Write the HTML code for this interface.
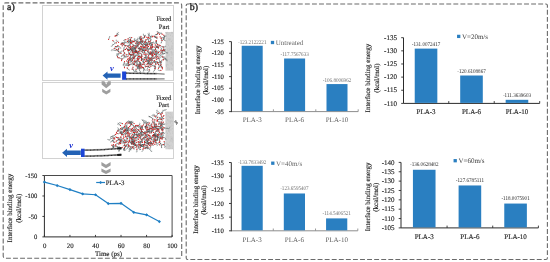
<!DOCTYPE html>
<html><head><meta charset="utf-8"><title>figure</title><style>html,body{margin:0;padding:0;background:#fff}svg{display:block;filter:blur(0.35px)}text{text-rendering:geometricPrecision}</style></head><body>
<svg width="550" height="262" viewBox="0 0 550 262" font-family='"Liberation Serif", serif'>
<rect width="550" height="262" fill="#fff"/>
<rect x="3.2" y="2.9" width="178.5" height="255.4" rx="2.3" ry="2.3" fill="none" stroke="#6a6a6a" stroke-width="1.1" stroke-dasharray="4.9 2.17" stroke-dashoffset="1.2"/>
<rect x="186.2" y="4.0" width="361.2" height="255.5" rx="1.5" ry="1.5" fill="none" stroke="#6a6a6a" stroke-width="1.1" stroke-dasharray="4.9 2.17" stroke-dashoffset="3"/>
<text x="7.10" y="9.90" font-size="9.8" text-anchor="start" fill="#1a1a1a" stroke="#1a1a1a" stroke-width="0.35">a)</text>
<text x="189.80" y="10.40" font-size="9.8" text-anchor="start" fill="#1a1a1a" stroke="#1a1a1a" stroke-width="0.35">b)</text>
<rect x="42.5" y="5.5" width="131" height="75.0" fill="#fff" stroke="#d2d2d2" stroke-width="1"/>
<text x="163.90" y="21.00" font-size="6.6" text-anchor="middle" fill="#262626"  stroke="#262626" stroke-width="0.15">Fixed</text>
<text x="164.10" y="28.70" font-size="6.6" text-anchor="middle" fill="#262626"  stroke="#262626" stroke-width="0.15">Part</text>
<rect x="165.5" y="32" width="7.699999999999989" height="38.7" fill="#d2d2d2"/>
<path d="M166.5 64.3h0.6M170.9 41.7h0.6M169.0 49.1h0.6M170.1 62.1h0.6M166.2 33.1h0.6M171.4 48.5h0.6M170.9 32.1h0.6M168.7 59.5h0.6M167.1 68.0h0.6M171.9 33.2h0.6M165.7 52.6h0.6M172.2 46.5h0.6M167.0 48.1h0.6M165.7 40.4h0.6M168.6 50.9h0.6M167.2 40.8h0.6M167.1 49.5h0.6M167.6 32.8h0.6M171.4 53.2h0.6M170.1 39.1h0.6M172.5 64.8h0.6M166.4 44.7h0.6M170.6 59.1h0.6M172.1 48.1h0.6M171.4 57.5h0.6M167.7 54.4h0.6M171.8 64.2h0.6M169.1 54.4h0.6M165.7 41.2h0.6M171.2 47.8h0.6M166.7 52.9h0.6M170.5 57.7h0.6M168.2 48.7h0.6M169.1 61.7h0.6M169.2 47.0h0.6M169.0 33.1h0.6M165.8 58.8h0.6M172.5 54.6h0.6M168.3 38.5h0.6M169.1 69.4h0.6M171.0 52.6h0.6M171.6 40.8h0.6M169.1 68.3h0.6M169.6 49.5h0.6M167.4 52.9h0.6M172.3 32.2h0.6M171.1 63.3h0.6M171.8 60.2h0.6M171.2 51.8h0.6M169.5 48.2h0.6M165.9 65.1h0.6M169.5 39.6h0.6M169.1 50.5h0.6M168.0 45.2h0.6M169.3 55.8h0.6M169.8 49.5h0.6M165.7 40.7h0.6M166.8 54.3h0.6M171.6 62.4h0.6M171.2 63.1h0.6M167.3 64.1h0.6M170.3 35.2h0.6M165.6 32.6h0.6M170.9 41.5h0.6M166.3 55.8h0.6M167.9 34.6h0.6M166.6 52.1h0.6M166.7 42.4h0.6M170.6 49.3h0.6M167.8 50.1h0.6M165.7 46.7h0.6M168.5 39.2h0.6M166.3 66.3h0.6M169.1 40.0h0.6M169.8 63.1h0.6M165.6 32.7h0.6M166.5 59.4h0.6M166.6 58.8h0.6M170.3 52.8h0.6M167.1 69.2h0.6M171.2 51.7h0.6M167.1 56.7h0.6M168.3 53.9h0.6M167.8 56.0h0.6M165.9 43.4h0.6M172.4 65.4h0.6M167.7 64.7h0.6M167.7 67.8h0.6M170.8 47.9h0.6M167.3 32.3h0.6M171.7 33.4h0.6M171.3 68.7h0.6M169.5 38.5h0.6M171.7 69.1h0.6M170.5 51.4h0.6M168.2 45.2h0.6M167.0 57.7h0.6M168.6 39.4h0.6M166.2 57.4h0.6M167.6 51.0h0.6M167.8 65.2h0.6M171.9 32.7h0.6M166.9 44.5h0.6M172.5 61.8h0.6M167.9 40.1h0.6M170.3 63.9h0.6M172.1 45.1h0.6M171.8 58.2h0.6M168.9 69.5h0.6M167.2 59.6h0.6M166.1 38.5h0.6M172.0 40.1h0.6M170.9 54.9h0.6M171.5 46.0h0.6M167.9 43.1h0.6M171.7 55.0h0.6M172.3 65.8h0.6M166.5 53.0h0.6M166.2 33.5h0.6M166.0 65.0h0.6M171.1 63.6h0.6M167.9 55.4h0.6M171.1 46.4h0.6M169.6 40.5h0.6M166.1 42.2h0.6M171.8 53.5h0.6M172.1 49.4h0.6M167.5 62.0h0.6M171.4 32.5h0.6M170.3 35.5h0.6M166.3 65.7h0.6M165.8 41.1h0.6M172.5 48.0h0.6M166.3 38.4h0.6M167.2 60.3h0.6M166.2 66.7h0.6M168.2 69.0h0.6M172.0 43.2h0.6M167.3 50.2h0.6M166.2 56.8h0.6M165.8 32.4h0.6M172.5 43.3h0.6M169.7 49.1h0.6M167.7 34.4h0.6M172.0 68.9h0.6M172.4 36.2h0.6M167.0 55.5h0.6M172.5 52.7h0.6" stroke="#bdbdbd" stroke-width="0.6" fill="none"/>
<path d="M157.3 34.5l-1.2 -0.3M155.4 34.6l0.5 1.1M158.8 33.0l0.6 -1.0M157.5 31.5l-1.2 0.2M161.0 33.2l0.6 -1.0M164.3 36.3l1.2 0.0M164.3 37.5l-1.1 0.5M164.0 39.4l-1.2 0.2M116.6 35.4l0.7 0.9M117.3 33.8l-1.1 -0.6M118.5 32.6l-1.1 -0.5M118.2 34.3l1.0 0.6M130.7 40.9l1.2 -0.3M129.3 42.1l1.0 0.6M127.8 43.0l0.7 1.0M139.5 37.8l-0.9 -0.8M143.1 34.6l0.3 -1.2M147.4 38.4l1.0 -0.7M151.3 37.0l-0.7 -1.0M149.2 34.6l-1.1 0.6M155.2 36.4l-0.1 1.2M155.1 37.3l-0.1 -1.2M124.3 39.8l-0.1 1.2M123.7 40.9l1.0 0.7M130.5 37.4l0.7 1.0M130.3 40.9l0.9 0.8M130.9 41.9l-0.7 1.0M143.8 37.8l-0.1 1.2M142.9 40.5l1.1 -0.4M145.4 41.1l-1.2 0.1M148.6 36.5l1.2 0.2M148.8 34.8l-1.2 0.2M150.8 40.6l-1.2 0.2M161.8 40.2l-1.2 -0.1M161.3 43.2l-1.1 -0.4M113.8 41.4l-1.0 0.6M117.3 41.3l1.0 -0.6M115.9 40.5l0.5 -1.1M128.4 40.0l1.2 0.1M129.9 40.0l0.5 -1.1M133.2 42.1l0.4 -1.1M129.8 41.7l-1.1 -0.5M131.1 41.6l0.0 1.2M130.5 42.8l0.7 0.9M129.8 43.9l1.0 0.6M137.9 47.5l-1.1 0.4M140.4 39.2l1.2 0.1M139.9 37.4l1.0 -0.7M140.1 36.2l1.2 -0.2M144.0 44.0l-1.0 0.7M148.5 39.4l0.2 -1.2M150.0 41.5l-0.1 1.2M150.3 38.1l1.2 -0.3M152.4 35.9l-0.6 -1.1M156.8 44.0l1.1 -0.6M157.9 44.7l-0.9 0.8M156.5 42.0l-1.1 0.4M164.9 36.4l-0.9 -0.8M166.1 35.8l0.9 0.8M114.8 43.2l-0.9 -0.8M112.6 44.8l-0.4 -1.1M111.8 46.5l-1.2 -0.3M122.3 43.5l-0.6 -1.0M123.6 42.5l0.5 1.1M126.8 42.1l-0.2 1.2M128.6 41.3l0.6 1.0M121.0 43.6l0.2 1.2M132.0 43.7l0.6 -1.1M134.7 45.5l-0.1 1.2M136.5 45.4l0.5 1.1M130.4 43.7l0.7 1.0M128.5 46.9l0.9 0.8M128.5 48.2l-1.2 -0.2M137.7 43.2l-0.1 -1.2M140.9 42.2l0.4 -1.1M141.6 43.4l1.2 -0.2M140.0 42.0l1.1 -0.6M141.5 42.6l0.8 -0.9M138.3 42.9l0.8 -0.9M143.5 44.8l0.2 1.2M145.3 44.3l-0.0 -1.2M146.9 44.2l-0.2 1.2M143.3 41.6l-0.7 1.0M141.9 41.7l0.4 1.1M140.0 38.9l-1.1 0.5M149.0 44.1l0.8 0.9M149.9 43.0l0.7 1.0M151.9 44.8l-1.1 0.5M152.2 46.0l-1.2 -0.1M150.9 45.2l0.3 1.2M149.0 44.8l0.4 -1.1M156.7 47.4l-1.0 0.6M156.7 45.6l0.9 0.8M157.0 47.6l1.2 -0.2M158.6 48.1l-0.2 1.2M158.4 47.1l-1.2 -0.3M157.2 46.8l-0.0 -1.2M156.0 46.6l-0.2 1.2M120.4 48.4l1.2 -0.2M114.8 46.9l-0.2 1.2M123.0 44.9l-0.4 -1.1M124.2 43.6l-0.8 -0.9M125.1 42.6l1.0 0.7M124.1 45.4l-0.1 -1.2M123.6 43.8l1.2 -0.3M129.7 43.7l1.2 0.2M127.6 45.8l-0.8 -0.9M126.1 45.5l-0.3 1.2M135.4 46.0l0.4 -1.1M136.8 46.6l0.9 -0.7M138.4 46.4l-0.0 -1.2M138.0 45.2l1.0 0.6M138.6 43.8l-1.2 -0.1M139.9 42.9l0.6 1.1M142.3 46.6l0.4 1.1M145.5 46.1l0.8 0.9M142.9 45.6l0.8 0.9M142.2 44.2l-0.8 0.9M146.0 48.7l1.1 -0.6M148.6 49.5l-0.4 -1.1M147.4 44.2l-1.2 -0.1M146.9 42.6l-1.2 -0.1M147.2 47.7l-1.1 -0.5M148.6 49.8l0.5 -1.1M151.8 47.8l1.0 0.7M151.5 47.5l-1.1 -0.6M158.8 46.6l0.0 1.2M159.8 45.1l-0.6 -1.0M163.2 46.5l0.2 1.2M164.3 47.1l0.1 -1.2M165.8 46.6l-0.2 -1.2M163.9 48.8l-1.2 0.3M164.6 49.9l1.0 -0.7M164.5 51.2l1.2 0.1M115.6 48.8l0.8 -0.9M116.8 50.0l-0.8 0.9M115.6 50.6l-1.1 -0.6M111.0 50.5l0.8 0.9M123.6 51.4l-1.2 0.0M125.3 54.3l-1.0 0.6M127.0 49.2l1.2 -0.1M128.0 49.8l0.7 -0.9M132.4 49.3l-0.8 0.9M132.7 51.1l-1.2 -0.3M133.4 52.3l1.2 -0.2M132.0 47.4l-1.1 -0.5M133.0 45.9l1.1 0.5M134.6 48.8l-1.2 0.1M135.3 50.3l-1.2 0.0M136.5 51.8l-0.5 1.1M134.8 48.8l-0.8 -0.9M133.2 49.7l-0.2 -1.2M140.6 48.0l-0.8 -0.9M139.1 47.5l0.2 1.2M140.8 50.9l-0.6 1.0M139.6 50.5l0.8 -0.9M146.5 45.1l1.1 -0.4M145.4 43.9l-1.0 0.6M145.0 42.6l0.9 -0.8M152.3 50.4l-1.0 0.6M151.2 47.1l-0.4 1.1M149.6 48.2l-1.1 -0.4M156.8 50.6l0.3 -1.2M156.4 52.6l1.2 0.2M157.0 47.0l0.3 -1.2M154.7 50.6l-1.0 -0.7M162.3 53.1l1.2 -0.2M163.5 53.7l-0.3 1.2M165.1 53.5l-0.2 -1.2M117.8 51.0l-0.8 0.9M119.0 48.2l-0.6 -1.0M124.0 49.3l-1.0 -0.7M124.0 47.6l1.1 -0.6M125.3 45.1l-0.9 -0.8M129.3 50.5l-0.4 1.1M130.7 49.5l-0.5 -1.1M132.1 48.9l-0.2 -1.2M129.6 49.4l-0.5 -1.1M131.4 49.9l0.2 1.2M132.6 49.1l1.1 0.5M133.6 53.4l-0.7 1.0M136.2 55.6l0.4 -1.1M137.7 55.6l-0.4 1.1M135.1 51.2l-0.9 0.8M133.7 50.5l-0.9 0.8M135.9 51.4l-1.0 0.6M135.3 49.8l1.1 -0.5M133.7 47.2l-0.6 1.1M138.2 52.8l0.7 0.9M142.8 49.8l1.1 0.5M143.6 48.5l0.8 0.9M144.1 50.8l0.6 1.1M143.0 49.4l0.9 -0.7M143.2 47.4l1.1 -0.5M143.4 46.1l1.2 0.2M147.6 52.4l1.2 -0.2M152.0 53.0l-0.6 1.1M153.8 53.0l-0.4 1.1M154.6 51.7l-0.8 -0.9M151.4 53.3l0.9 0.8M157.4 52.0l0.4 -1.1M161.7 50.5l0.0 -1.2M161.6 48.9l-0.5 -1.1M163.5 50.1l0.6 1.0M166.5 52.8l1.1 -0.4M167.9 53.1l0.1 -1.2M120.7 51.7l1.2 -0.2M123.6 54.6l0.7 1.0M121.9 55.5l0.7 1.0M126.6 57.2l-1.1 0.5M128.7 53.2l-0.9 0.8M137.5 52.8l0.6 -1.0M138.2 55.9l-1.0 0.6M132.6 53.1l-1.1 -0.4M135.8 52.3l-0.3 -1.2M134.8 53.0l0.1 1.2M141.5 56.1l1.2 0.1M141.5 59.0l1.2 -0.1M145.3 53.6l0.7 -0.9M144.7 52.3l1.2 -0.0M149.0 53.5l-0.3 1.2M147.5 51.6l0.2 -1.2M157.0 53.9l-0.2 -1.2M165.7 50.0l-0.6 -1.1M117.8 55.4l-1.0 -0.6M118.4 54.0l1.0 0.6M119.3 52.9l0.5 1.1M124.3 56.6l-1.0 0.6M128.3 49.6l1.1 -0.4M130.7 56.2l-1.0 -0.6M134.9 52.3l1.1 0.6M136.3 51.8l0.1 -1.2M133.2 54.9l0.8 -0.9M133.4 53.4l-1.2 -0.3M138.9 59.6l-1.1 0.4M136.4 58.7l0.7 1.0M144.0 61.9l0.3 -1.2M149.1 54.0l-1.1 -0.5M150.8 53.6l-0.4 -1.1M152.2 53.8l0.2 1.2M152.7 56.0l-0.4 1.1M156.0 56.1l1.0 0.6M156.3 54.5l-1.1 -0.6M160.4 56.0l0.4 -1.1M161.8 54.6l1.2 0.3M164.4 57.1l0.7 -1.0M165.4 58.1l-0.9 0.8M117.9 57.2l-0.3 1.2M117.2 53.9l-1.2 -0.3M118.4 53.6l-0.1 1.2M119.7 57.8l-1.0 0.7M128.6 60.5l-0.5 1.1M130.5 60.2l0.4 1.1M131.4 60.1l0.9 -0.8M133.3 58.0l1.1 0.4M134.7 57.2l0.1 -1.2M132.7 58.0l-0.3 -1.2M131.1 58.6l0.3 1.2M138.4 59.1l1.2 -0.3M139.7 62.1l-0.5 1.1M139.3 57.2l1.2 0.3M142.7 59.2l0.7 -1.0M143.3 60.7l1.2 -0.1M143.4 62.0l1.2 0.2M144.1 63.6l-0.8 0.9M145.8 58.0l0.9 -0.8M146.7 59.1l-1.1 0.5M146.2 60.6l-1.2 -0.0M150.3 59.3l-0.2 -1.2M151.3 57.9l-0.8 -0.9M150.4 58.6l-0.1 -1.2M151.3 59.6l0.8 -0.9M152.7 54.3l1.1 0.6M153.1 53.2l1.2 0.3M151.2 60.3l-1.1 -0.5M149.6 60.2l0.4 -1.1M157.8 58.7l-0.6 -1.0M159.1 58.0l-0.7 -0.9M159.4 59.4l-1.1 0.5M164.7 58.7l0.9 0.8M166.9 59.9l-1.1 0.4M166.8 61.1l1.2 -0.2M122.0 59.2l-0.9 -0.8M124.4 63.0l-1.1 -0.4M123.4 64.6l0.8 0.9M127.7 62.3l-0.7 1.0M127.3 63.8l1.2 0.1M125.5 64.2l-0.8 -0.9M123.7 64.0l-0.7 0.9M128.4 63.3l-1.2 -0.1M128.5 66.2l-1.1 -0.5M131.7 61.5l-0.7 -0.9M130.1 62.2l-0.4 -1.1M135.8 54.6l1.2 -0.1M135.3 62.5l-1.0 -0.7M133.8 63.5l-0.7 -0.9M133.4 65.0l-1.2 0.3M140.0 62.4l-0.5 1.1M142.3 59.6l-0.5 -1.1M143.9 59.8l0.5 1.1M146.7 60.9l-0.1 1.2M149.6 59.4l-0.7 -1.0M150.0 58.1l1.2 0.0M148.2 61.8l0.3 -1.2M149.8 61.7l0.6 1.1M148.0 61.2l-0.4 -1.1M148.2 62.9l1.1 -0.5M147.1 64.0l-0.5 -1.1M151.3 61.8l1.1 0.6M150.0 62.5l-0.7 -1.0M148.6 62.9l0.1 1.2M155.7 63.6l1.2 -0.2M156.0 64.8l-0.9 0.8M158.5 62.5l0.6 1.0M157.0 61.8l-0.5 1.1M155.9 62.2l-0.9 -0.8M164.0 58.8l0.9 0.8M163.0 57.1l-1.1 0.4M161.9 56.5l0.9 -0.8M160.4 57.1l0.0 1.2M130.3 58.5l0.5 1.1M133.8 61.2l-1.2 -0.3M135.6 61.2l0.6 1.0M130.9 64.1l-0.3 1.2M138.4 66.5l1.2 -0.0M137.7 67.6l0.9 0.8M145.0 64.7l0.2 -1.2M145.5 67.4l-0.8 0.9M143.0 62.4l0.0 -1.2M140.8 64.6l-0.9 -0.8M148.9 64.0l-0.0 1.2M151.8 64.7l0.8 -0.9M150.1 64.1l0.7 0.9M154.4 61.7l-0.5 -1.1M149.7 64.8l-1.0 -0.6M152.9 60.5l-1.0 0.7M152.0 59.5l-0.7 0.9M160.0 61.8l-0.3 -1.2M161.4 61.1l0.8 0.9M162.0 59.7l1.1 0.5M157.3 63.6l0.9 -0.8M157.2 62.0l1.2 0.2M160.6 63.3l0.8 -0.9M161.0 61.8l1.0 0.6M127.6 65.5l-0.5 -1.1M126.8 64.6l-0.9 0.8M136.3 66.6l-0.3 -1.2M135.2 65.6l0.5 -1.1M138.5 66.7l0.6 1.0M137.0 67.2l0.4 1.1M141.9 67.3l1.1 -0.6M141.2 68.8l-0.9 -0.8M149.1 66.7l-0.0 1.2M149.6 67.9l1.2 -0.2M147.0 70.6l1.2 -0.2M150.7 64.6l-1.2 -0.3M149.2 63.7l0.3 -1.2M154.5 68.4l1.2 0.2M154.9 69.5l-0.8 0.9M153.3 71.4l0.2 1.2M161.1 66.5l-1.1 0.6M161.1 63.2l-1.0 -0.7M161.6 61.6l-1.2 -0.3M128.6 64.1l-0.6 -1.0M129.3 69.7l0.2 1.2M135.9 71.4l-0.7 -1.0M136.0 70.5l-1.2 -0.2M136.7 72.0l1.2 -0.1M139.2 63.4l1.2 -0.3M143.7 71.3l-1.1 0.5M141.7 67.1l-0.2 1.2M140.3 67.6l0.2 1.2M139.1 68.2l-0.9 -0.8M137.9 68.6l0.1 1.2M149.4 71.3l1.1 -0.4M147.8 72.3l0.6 1.0M154.9 66.2l-1.0 0.7M153.8 65.7l0.1 -1.2M159.3 67.0l0.8 0.9M158.1 63.9l1.2 -0.3M162.0 67.4l0.9 -0.8" stroke="#a8aeae" stroke-width="0.55" fill="none"/>
<path d="M159.4 34.3L158.8 33.0L157.5 31.5M162.2 34.2L161.0 33.2L159.6 33.2L158.6 32.2L157.1 32.1M116.0 35.7L117.6 35.4L118.2 34.3M141.2 36.9L139.5 37.8L139.7 39.3L140.6 40.2M146.9 37.2L147.4 38.4L148.4 39.7L148.7 41.5M152.5 36.7L151.3 37.0L150.0 36.4L149.2 34.6L149.1 32.7M157.0 37.2L155.1 37.3L153.8 36.8M160.1 36.8L161.5 37.6L163.4 37.8M108.6 39.5L109.2 37.9L109.9 36.0M125.9 39.7L124.3 39.8L123.7 40.9M128.0 38.9L129.0 37.7L130.5 37.4M130.5 39.8L130.3 40.9L130.9 41.9M141.6 39.3L142.9 40.5L143.9 41.6L145.4 42.5M146.0 39.6L145.4 41.1L146.0 42.4M148.3 37.7L148.6 36.5L148.8 34.8L147.8 33.6M149.0 37.9L150.2 39.2L150.8 40.6M161.2 38.4L161.8 40.2L161.7 41.6L161.3 43.2M112.8 40.6L113.8 41.4L114.9 42.5M118.6 42.3L117.3 41.3L115.9 40.5M130.5 42.3L131.8 42.3L133.2 42.1M132.7 41.1L130.9 40.8L129.8 41.7L128.0 41.2M134.2 41.7L132.8 41.7L131.1 41.6L130.5 42.8L129.8 43.9M136.9 41.2L137.5 43.0L138.2 44.7L137.9 46.2L137.9 47.5M145.2 41.5L146.2 40.2L147.1 39.2L148.5 39.4M148.4 41.6L150.0 41.5L150.8 42.5L152.6 42.6L153.8 41.8M150.4 41.0L151.2 39.6L150.3 38.1L150.7 36.3L152.4 35.9M156.3 40.5L156.5 42.0L155.1 43.4L153.5 42.9L152.1 42.4M162.0 40.5L163.5 39.6L163.4 37.6L164.9 36.4L166.1 35.8M116.4 42.8L114.8 43.2L114.1 44.3L112.6 44.8L111.8 46.5M122.4 43.6L123.6 42.5L125.6 42.2L126.8 42.1L128.6 41.3M123.8 44.1L122.2 44.0L121.0 43.6M130.8 42.8L132.0 43.7L132.9 44.9L134.7 45.5L136.5 45.4M131.7 42.8L130.4 43.7L129.8 45.5L128.5 46.9L128.5 48.2M135.8 43.4L137.7 43.2L139.3 42.0L140.9 42.2L141.6 43.4M136.2 42.6L137.2 41.1L138.9 41.2L140.0 42.0L141.5 42.6M139.3 44.1L138.3 42.9L137.5 41.3M142.2 45.0L143.5 44.8L145.3 44.3L146.9 44.2M145.0 42.7L143.3 41.6L141.9 41.7L141.1 40.1L140.0 38.9M147.4 44.8L149.0 44.1L149.9 43.0M155.2 44.8L155.5 46.1L156.7 47.4M157.7 44.7L156.7 45.6L157.0 47.6L158.6 48.1M158.9 45.0L159.3 46.2L158.4 47.1L157.2 46.8L156.0 46.6M115.6 46.5L117.2 46.8L118.8 46.4L120.2 47.2L120.4 48.4M122.1 45.8L123.0 44.9L124.2 43.6L125.1 42.6L124.8 41.5M125.3 45.6L124.1 45.4L123.6 43.8M127.8 46.4L128.9 45.3L129.7 43.7M130.5 46.2L129.1 45.4L127.6 45.8L126.1 45.5M132.3 46.4L133.0 47.6L134.3 48.7M133.6 45.8L135.4 46.0L136.8 46.6L138.4 46.4M140.6 46.4L142.3 46.6L143.9 46.8L145.5 46.1M141.9 46.8L142.9 45.6L142.2 44.2L140.9 43.4M145.3 47.2L146.0 48.7L146.9 49.9L148.6 49.5M152.6 46.2L151.8 47.8L150.3 49.0L148.4 48.4M154.3 47.1L152.5 46.5L151.5 47.5M156.9 46.7L158.8 46.6L159.8 45.1M160.2 45.6L161.7 46.5L163.2 46.5L164.3 47.1L165.8 46.6M163.1 47.1L163.9 48.8L164.6 49.9L164.5 51.2M114.2 48.5L115.6 48.8L116.8 50.0M116.5 49.7L115.6 50.6L113.8 50.1L111.9 49.8L111.0 50.5M118.6 48.9L118.1 50.3L118.5 51.7M125.5 49.4L123.7 50.0L123.6 51.4L124.5 53.1L125.3 54.3M130.7 48.3L132.4 49.3L132.7 51.1L133.4 52.3M131.9 49.1L132.0 47.4L133.0 45.9L133.4 44.6M145.1 49.7L143.9 50.7L142.1 51.1L140.8 50.9L139.6 50.5M146.9 48.0L147.2 46.1L146.5 45.1L145.4 43.9L145.0 42.6M152.5 47.5L151.2 47.1L149.6 48.2L150.0 49.9M155.5 49.7L156.8 50.6L156.4 52.6M123.3 50.8L124.0 49.3L124.0 47.6L125.0 46.4L125.3 45.1M128.7 50.6L129.6 49.4L131.4 49.9L132.6 49.1M132.4 52.3L133.6 53.4L134.4 55.3L136.2 55.6L137.7 55.6M135.6 52.4L135.1 51.2L133.7 50.5L132.2 50.6L131.4 49.5M139.2 51.8L138.2 52.8L136.7 53.6M145.5 50.5L144.1 50.8L143.0 49.4L143.2 47.4L143.4 46.1M146.2 50.1L147.3 50.8L147.6 52.4M153.3 52.4L152.1 52.3L151.4 53.3L150.3 54.0M155.8 52.2L157.4 52.0L158.6 51.1M158.4 52.4L159.9 51.3L161.7 50.5M160.9 50.1L161.6 48.9L160.7 47.3M162.0 50.8L163.5 50.1L164.7 48.8M164.0 50.5L165.4 51.6L166.5 52.8L167.9 53.1M121.0 53.5L120.7 51.7L121.7 50.9M124.6 52.9L123.6 54.6L121.9 55.5L121.1 57.2M126.9 54.3L126.0 55.9L126.6 57.2M133.4 54.1L131.8 54.4L130.5 54.8L129.7 53.9L128.7 53.2M135.9 52.6L137.5 52.8L137.9 54.2L138.2 55.9L139.6 56.8M140.2 53.4L138.6 52.8L137.0 52.6L135.8 52.3L134.8 53.0M144.1 54.3L145.0 55.6L146.9 55.4M147.2 54.1L145.3 53.6L144.7 52.3L144.5 51.0L142.7 50.3M152.6 54.2L151.2 54.3L149.3 53.9M154.2 53.8L155.7 54.3L157.0 53.9L158.3 53.1L159.2 51.5M156.5 54.8L156.8 53.3L157.9 52.1M160.8 53.1L161.5 52.0L162.5 51.1L164.1 51.0L165.7 50.0M117.4 56.9L117.8 55.4L118.4 54.0L119.3 52.9L121.2 53.0M127.8 56.6L128.6 54.7L128.8 53.0L128.2 51.3L128.3 49.6M133.3 55.1L133.6 53.5L134.9 52.3L136.3 51.8L137.7 52.3M134.2 56.4L133.2 54.9L133.4 53.4M138.5 56.4L139.0 57.8L138.9 59.6M139.8 56.3L138.0 56.9L137.3 57.9L136.4 58.7M141.1 57.0L141.9 58.3L141.1 60.0L142.4 61.4L144.0 61.9M148.2 57.2L147.1 58.5L145.3 59.0M157.1 56.3L158.9 56.2L160.4 56.0L161.8 54.6L162.3 53.2M162.8 56.9L164.4 57.1L165.4 58.1L165.6 60.1M119.1 57.9L117.9 57.2L116.7 55.6L117.2 53.9L118.4 53.6M122.0 59.1L120.6 58.6L119.7 57.8M127.6 59.2L128.6 60.5L130.5 60.2M133.1 57.9L134.7 57.2L136.1 55.8M137.5 58.0L138.4 59.1L138.3 61.0L139.7 62.1L140.2 63.8M139.0 58.5L139.3 57.2L140.3 55.9M141.7 58.1L142.7 59.2L143.3 60.7L143.4 62.0L144.1 63.6M144.3 57.5L145.8 58.0L146.7 59.1L146.2 60.6M148.0 58.8L149.1 59.6L150.3 59.3L151.3 57.9L152.6 58.0M149.1 58.6L150.4 58.6L151.3 59.6M151.9 57.8L151.9 56.1L152.7 54.3L153.1 53.2M158.9 57.9L159.4 59.4L159.5 60.7L160.0 61.9L161.2 62.1M163.3 59.5L164.7 58.7L165.9 58.5L166.9 59.9L166.8 61.1M121.6 60.6L122.0 59.2L123.2 58.0L124.8 57.7M124.5 61.6L124.4 63.0L123.4 64.6L123.3 65.9M126.8 60.9L127.7 62.3L127.3 63.8L125.5 64.2L123.7 64.0M134.8 61.0L134.9 59.2L134.7 57.3L136.0 55.9L135.8 54.6M141.3 60.4L142.3 59.6L143.9 59.8M146.9 61.1L148.2 61.8L149.8 61.7M150.8 60.2L149.5 60.1L148.0 61.2L148.2 62.9L147.1 64.0M152.0 60.2L151.3 61.8L150.0 62.5L148.6 62.9M154.4 60.7L155.1 61.9L155.7 63.6L156.0 64.8M160.2 62.0L158.5 62.5L157.0 61.8L155.9 62.2L154.3 61.9M163.2 60.0L164.0 58.8L163.0 57.1L161.9 56.5L160.4 57.1M132.9 62.8L133.8 61.2L135.6 61.2L136.9 62.0M140.2 64.8L140.6 63.0L140.7 61.8M143.2 64.0L145.0 64.7L145.1 66.2L145.5 67.4M144.3 62.7L143.0 62.4L141.9 63.7L140.8 64.6L139.4 64.9M147.7 63.4L148.9 64.0L150.6 63.4L151.8 64.7L152.5 65.9M149.2 65.0L150.1 64.1L150.9 62.6L152.8 62.6L154.4 61.7M152.7 63.1L151.1 64.0L149.7 64.8M155.8 64.2L155.1 62.6L153.6 62.1L152.9 60.5L152.0 59.5M157.5 62.7L159.0 62.5L160.0 61.8L161.4 61.1L162.0 59.7M158.6 64.3L157.3 63.6L157.2 62.0L156.3 61.0L154.5 61.8M161.1 64.9L160.6 63.3L161.0 61.8M129.1 65.2L127.6 65.5L126.8 64.6M133.0 67.1L132.8 68.7L134.1 70.1M138.1 65.8L136.3 66.6L135.2 65.6L133.8 64.2M140.0 66.4L138.5 66.7L137.0 67.2M141.4 66.1L141.9 67.3L141.2 68.8M148.1 66.0L148.0 67.7L147.2 68.9L147.0 70.6M150.9 66.5L150.7 64.6L149.2 63.7L147.2 63.4M155.1 66.5L154.5 68.4L154.9 69.5L154.4 70.8L153.3 71.4M162.2 67.4L161.1 66.5L160.5 65.0L161.1 63.2L161.6 61.6M124.5 67.7L124.3 66.3L125.6 65.5L127.1 65.3L128.6 64.1M127.2 67.9L127.8 69.1L129.3 69.7M132.1 69.1L133.2 70.0L134.3 71.7L135.9 71.4M136.1 69.1L136.0 70.5L136.7 72.0M139.9 68.3L139.4 66.4L139.5 64.9L139.2 63.4M143.5 67.6L141.7 67.1L140.3 67.6L139.1 68.2L137.9 68.6M149.2 69.7L149.4 71.3L147.8 72.3L147.4 73.6M161.0 70.3L159.3 70.6L157.7 69.7" stroke="#6a7373" stroke-width="0.7" fill="none" stroke-linejoin="round"/>
<path d="M157.8 33.3L157.3 34.5L155.4 34.6M163.8 35.0L164.3 36.3L164.3 37.5L164.0 39.4L165.1 40.9M115.0 36.1L116.6 35.4L117.3 33.8L118.5 32.6M131.8 37.5L130.4 38.9L130.7 40.9L129.3 42.1L127.8 43.0M144.6 37.2L144.2 35.4L143.1 34.6M154.0 36.2L155.2 36.4L155.8 37.9L157.5 38.6M140.6 39.0L142.0 38.2L143.8 37.8L144.9 36.8L145.3 34.9M127.5 41.6L128.4 40.0L129.9 40.0M140.6 40.5L140.4 39.2L139.9 37.4L140.1 36.2M141.9 41.8L143.3 42.8L144.0 44.0L145.8 44.7L147.0 45.2M156.0 40.9L156.3 42.3L156.8 44.0L157.9 44.7M121.0 44.2L122.3 43.5L122.2 42.0M149.4 44.0L150.9 43.5L151.9 44.8L152.2 46.0M152.6 44.2L150.9 45.2L149.0 44.8M118.0 45.6L116.6 46.8L114.8 46.9M136.8 46.1L138.0 45.2L138.6 43.8L139.9 42.9M147.0 46.0L147.4 44.2L146.9 42.6L145.7 42.0M148.5 46.4L147.2 47.7L147.5 48.9L148.6 49.8M126.5 48.0L127.0 49.2L128.0 49.8L129.7 49.9M134.8 47.6L134.6 48.8L135.3 50.3L136.5 51.8L138.4 52.1M136.3 47.8L134.8 48.8L133.2 49.7M138.8 48.6L140.6 48.5L142.6 48.6M141.9 47.8L140.6 48.0L139.1 47.5M150.9 47.7L151.6 49.3L152.3 50.4L152.5 51.8M158.5 47.7L157.0 47.0L155.6 47.7L155.5 49.0L154.7 50.6M163.4 49.7L162.0 51.1L162.3 53.1L163.5 53.7L165.1 53.5M119.1 52.0L117.8 51.0L117.9 49.4L119.0 48.2M127.8 50.1L129.3 50.5L130.7 49.5L132.1 48.9L133.5 48.2M137.1 52.0L135.9 51.4L135.3 49.8L135.2 48.2L133.7 47.2M142.1 51.2L142.8 49.8L143.6 48.5M150.8 51.9L152.0 53.0L153.8 53.0L154.6 51.7M129.9 54.4L131.1 54.4L131.9 56.2M137.5 53.1L136.4 51.6L134.9 51.3L133.6 51.7L132.6 53.1M141.6 54.6L141.5 56.1L141.5 57.5L141.5 59.0L141.7 60.4M150.7 53.9L149.0 53.5L148.7 52.2L147.5 51.6M124.0 55.1L124.3 56.6L126.2 57.0M129.8 57.4L130.7 56.2L130.5 54.7M145.1 57.3L147.0 57.4L148.2 56.5M148.6 55.8L149.1 54.0L150.8 53.6L152.2 53.8M151.6 55.0L152.7 56.0L154.0 55.9M154.9 57.2L156.0 56.1L156.3 54.5L155.9 53.1M130.1 59.0L131.4 60.1L132.9 59.5L133.3 58.0L134.7 56.9M134.1 57.9L132.7 58.0L131.1 58.6M153.9 58.2L152.1 59.0L151.2 60.3L149.6 60.2M156.3 59.3L157.8 58.7L159.1 58.0M128.7 61.9L128.4 63.3L128.9 64.5L128.5 66.2M132.4 60.2L131.7 61.5L130.1 62.2M136.3 60.8L135.3 62.5L133.8 63.5L133.4 65.0M139.0 61.3L140.0 62.4L140.3 64.3M145.5 61.3L146.7 60.9L148.6 60.5L149.6 59.4L150.0 58.1M128.7 62.8L128.4 60.9L128.9 59.4L130.3 58.5L130.4 57.1M134.6 64.2L132.7 63.9L130.9 64.1L129.1 64.6M138.5 64.8L138.4 66.5L137.7 67.6L137.5 68.8M145.9 66.4L147.7 66.4L149.1 66.7L149.6 67.9M142.9 67.7L143.9 69.3L143.7 71.3M155.1 68.6L155.6 67.3L154.9 66.2L153.8 65.7M158.5 68.2L159.3 67.0L159.1 65.5L158.1 63.9M162.4 68.8L162.0 67.4L161.1 66.1L159.7 64.8" stroke="#363c3c" stroke-width="0.7" fill="none" stroke-linejoin="round"/>
<path d="M157.2 33.3a0.58 0.58 0 1 0 1.16 0a0.58 0.58 0 1 0 -1.16 0M158.9 34.3a0.58 0.58 0 1 0 1.16 0a0.58 0.58 0 1 0 -1.16 0M161.6 34.2a0.58 0.58 0 1 0 1.16 0a0.58 0.58 0 1 0 -1.16 0M163.2 35.0a0.58 0.58 0 1 0 1.16 0a0.58 0.58 0 1 0 -1.16 0M114.4 36.1a0.58 0.58 0 1 0 1.16 0a0.58 0.58 0 1 0 -1.16 0M115.5 35.7a0.58 0.58 0 1 0 1.16 0a0.58 0.58 0 1 0 -1.16 0M131.2 37.5a0.58 0.58 0 1 0 1.16 0a0.58 0.58 0 1 0 -1.16 0M140.6 36.9a0.58 0.58 0 1 0 1.16 0a0.58 0.58 0 1 0 -1.16 0M144.0 37.2a0.58 0.58 0 1 0 1.16 0a0.58 0.58 0 1 0 -1.16 0M146.3 37.2a0.58 0.58 0 1 0 1.16 0a0.58 0.58 0 1 0 -1.16 0M151.9 36.7a0.58 0.58 0 1 0 1.16 0a0.58 0.58 0 1 0 -1.16 0M153.4 36.2a0.58 0.58 0 1 0 1.16 0a0.58 0.58 0 1 0 -1.16 0M156.4 37.2a0.58 0.58 0 1 0 1.16 0a0.58 0.58 0 1 0 -1.16 0M159.5 36.8a0.58 0.58 0 1 0 1.16 0a0.58 0.58 0 1 0 -1.16 0M108.0 39.5a0.58 0.58 0 1 0 1.16 0a0.58 0.58 0 1 0 -1.16 0M125.3 39.7a0.58 0.58 0 1 0 1.16 0a0.58 0.58 0 1 0 -1.16 0M127.4 38.9a0.58 0.58 0 1 0 1.16 0a0.58 0.58 0 1 0 -1.16 0M130.0 39.8a0.58 0.58 0 1 0 1.16 0a0.58 0.58 0 1 0 -1.16 0M140.0 39.0a0.58 0.58 0 1 0 1.16 0a0.58 0.58 0 1 0 -1.16 0M141.0 39.3a0.58 0.58 0 1 0 1.16 0a0.58 0.58 0 1 0 -1.16 0M145.4 39.6a0.58 0.58 0 1 0 1.16 0a0.58 0.58 0 1 0 -1.16 0M147.7 37.7a0.58 0.58 0 1 0 1.16 0a0.58 0.58 0 1 0 -1.16 0M148.4 37.9a0.58 0.58 0 1 0 1.16 0a0.58 0.58 0 1 0 -1.16 0M160.6 38.4a0.58 0.58 0 1 0 1.16 0a0.58 0.58 0 1 0 -1.16 0M112.3 40.6a0.58 0.58 0 1 0 1.16 0a0.58 0.58 0 1 0 -1.16 0M118.0 42.3a0.58 0.58 0 1 0 1.16 0a0.58 0.58 0 1 0 -1.16 0M126.9 41.6a0.58 0.58 0 1 0 1.16 0a0.58 0.58 0 1 0 -1.16 0M129.9 42.3a0.58 0.58 0 1 0 1.16 0a0.58 0.58 0 1 0 -1.16 0M132.1 41.1a0.58 0.58 0 1 0 1.16 0a0.58 0.58 0 1 0 -1.16 0M133.6 41.7a0.58 0.58 0 1 0 1.16 0a0.58 0.58 0 1 0 -1.16 0M136.4 41.2a0.58 0.58 0 1 0 1.16 0a0.58 0.58 0 1 0 -1.16 0M140.0 40.5a0.58 0.58 0 1 0 1.16 0a0.58 0.58 0 1 0 -1.16 0M141.3 41.8a0.58 0.58 0 1 0 1.16 0a0.58 0.58 0 1 0 -1.16 0M144.6 41.5a0.58 0.58 0 1 0 1.16 0a0.58 0.58 0 1 0 -1.16 0M147.8 41.6a0.58 0.58 0 1 0 1.16 0a0.58 0.58 0 1 0 -1.16 0M149.8 41.0a0.58 0.58 0 1 0 1.16 0a0.58 0.58 0 1 0 -1.16 0M155.4 40.9a0.58 0.58 0 1 0 1.16 0a0.58 0.58 0 1 0 -1.16 0M155.7 40.5a0.58 0.58 0 1 0 1.16 0a0.58 0.58 0 1 0 -1.16 0M161.4 40.5a0.58 0.58 0 1 0 1.16 0a0.58 0.58 0 1 0 -1.16 0M115.8 42.8a0.58 0.58 0 1 0 1.16 0a0.58 0.58 0 1 0 -1.16 0M120.4 44.2a0.58 0.58 0 1 0 1.16 0a0.58 0.58 0 1 0 -1.16 0M121.8 43.6a0.58 0.58 0 1 0 1.16 0a0.58 0.58 0 1 0 -1.16 0M123.2 44.1a0.58 0.58 0 1 0 1.16 0a0.58 0.58 0 1 0 -1.16 0M130.2 42.8a0.58 0.58 0 1 0 1.16 0a0.58 0.58 0 1 0 -1.16 0M131.2 42.8a0.58 0.58 0 1 0 1.16 0a0.58 0.58 0 1 0 -1.16 0M135.2 43.4a0.58 0.58 0 1 0 1.16 0a0.58 0.58 0 1 0 -1.16 0M135.6 42.6a0.58 0.58 0 1 0 1.16 0a0.58 0.58 0 1 0 -1.16 0M138.8 44.1a0.58 0.58 0 1 0 1.16 0a0.58 0.58 0 1 0 -1.16 0M141.6 45.0a0.58 0.58 0 1 0 1.16 0a0.58 0.58 0 1 0 -1.16 0M144.4 42.7a0.58 0.58 0 1 0 1.16 0a0.58 0.58 0 1 0 -1.16 0M146.8 44.8a0.58 0.58 0 1 0 1.16 0a0.58 0.58 0 1 0 -1.16 0M148.8 44.0a0.58 0.58 0 1 0 1.16 0a0.58 0.58 0 1 0 -1.16 0M152.0 44.2a0.58 0.58 0 1 0 1.16 0a0.58 0.58 0 1 0 -1.16 0M154.7 44.8a0.58 0.58 0 1 0 1.16 0a0.58 0.58 0 1 0 -1.16 0M157.1 44.7a0.58 0.58 0 1 0 1.16 0a0.58 0.58 0 1 0 -1.16 0M158.3 45.0a0.58 0.58 0 1 0 1.16 0a0.58 0.58 0 1 0 -1.16 0M115.1 46.5a0.58 0.58 0 1 0 1.16 0a0.58 0.58 0 1 0 -1.16 0M117.4 45.6a0.58 0.58 0 1 0 1.16 0a0.58 0.58 0 1 0 -1.16 0M121.6 45.8a0.58 0.58 0 1 0 1.16 0a0.58 0.58 0 1 0 -1.16 0M124.8 45.6a0.58 0.58 0 1 0 1.16 0a0.58 0.58 0 1 0 -1.16 0M127.3 46.4a0.58 0.58 0 1 0 1.16 0a0.58 0.58 0 1 0 -1.16 0M129.9 46.2a0.58 0.58 0 1 0 1.16 0a0.58 0.58 0 1 0 -1.16 0M131.7 46.4a0.58 0.58 0 1 0 1.16 0a0.58 0.58 0 1 0 -1.16 0M133.0 45.8a0.58 0.58 0 1 0 1.16 0a0.58 0.58 0 1 0 -1.16 0M136.2 46.1a0.58 0.58 0 1 0 1.16 0a0.58 0.58 0 1 0 -1.16 0M140.1 46.4a0.58 0.58 0 1 0 1.16 0a0.58 0.58 0 1 0 -1.16 0M141.3 46.8a0.58 0.58 0 1 0 1.16 0a0.58 0.58 0 1 0 -1.16 0M144.7 47.2a0.58 0.58 0 1 0 1.16 0a0.58 0.58 0 1 0 -1.16 0M146.4 46.0a0.58 0.58 0 1 0 1.16 0a0.58 0.58 0 1 0 -1.16 0M147.9 46.4a0.58 0.58 0 1 0 1.16 0a0.58 0.58 0 1 0 -1.16 0M152.0 46.2a0.58 0.58 0 1 0 1.16 0a0.58 0.58 0 1 0 -1.16 0M153.7 47.1a0.58 0.58 0 1 0 1.16 0a0.58 0.58 0 1 0 -1.16 0M156.3 46.7a0.58 0.58 0 1 0 1.16 0a0.58 0.58 0 1 0 -1.16 0M159.6 45.6a0.58 0.58 0 1 0 1.16 0a0.58 0.58 0 1 0 -1.16 0M162.5 47.1a0.58 0.58 0 1 0 1.16 0a0.58 0.58 0 1 0 -1.16 0M113.6 48.5a0.58 0.58 0 1 0 1.16 0a0.58 0.58 0 1 0 -1.16 0M115.9 49.7a0.58 0.58 0 1 0 1.16 0a0.58 0.58 0 1 0 -1.16 0M118.0 48.9a0.58 0.58 0 1 0 1.16 0a0.58 0.58 0 1 0 -1.16 0M124.9 49.4a0.58 0.58 0 1 0 1.16 0a0.58 0.58 0 1 0 -1.16 0M126.0 48.0a0.58 0.58 0 1 0 1.16 0a0.58 0.58 0 1 0 -1.16 0M130.1 48.3a0.58 0.58 0 1 0 1.16 0a0.58 0.58 0 1 0 -1.16 0M131.4 49.1a0.58 0.58 0 1 0 1.16 0a0.58 0.58 0 1 0 -1.16 0M134.2 47.6a0.58 0.58 0 1 0 1.16 0a0.58 0.58 0 1 0 -1.16 0M135.7 47.8a0.58 0.58 0 1 0 1.16 0a0.58 0.58 0 1 0 -1.16 0M138.2 48.6a0.58 0.58 0 1 0 1.16 0a0.58 0.58 0 1 0 -1.16 0M141.3 47.8a0.58 0.58 0 1 0 1.16 0a0.58 0.58 0 1 0 -1.16 0M144.5 49.7a0.58 0.58 0 1 0 1.16 0a0.58 0.58 0 1 0 -1.16 0M146.3 48.0a0.58 0.58 0 1 0 1.16 0a0.58 0.58 0 1 0 -1.16 0M150.3 47.7a0.58 0.58 0 1 0 1.16 0a0.58 0.58 0 1 0 -1.16 0M151.9 47.5a0.58 0.58 0 1 0 1.16 0a0.58 0.58 0 1 0 -1.16 0M155.0 49.7a0.58 0.58 0 1 0 1.16 0a0.58 0.58 0 1 0 -1.16 0M157.9 47.7a0.58 0.58 0 1 0 1.16 0a0.58 0.58 0 1 0 -1.16 0M162.8 49.7a0.58 0.58 0 1 0 1.16 0a0.58 0.58 0 1 0 -1.16 0M118.5 52.0a0.58 0.58 0 1 0 1.16 0a0.58 0.58 0 1 0 -1.16 0M122.7 50.8a0.58 0.58 0 1 0 1.16 0a0.58 0.58 0 1 0 -1.16 0M127.2 50.1a0.58 0.58 0 1 0 1.16 0a0.58 0.58 0 1 0 -1.16 0M128.2 50.6a0.58 0.58 0 1 0 1.16 0a0.58 0.58 0 1 0 -1.16 0M131.8 52.3a0.58 0.58 0 1 0 1.16 0a0.58 0.58 0 1 0 -1.16 0M135.0 52.4a0.58 0.58 0 1 0 1.16 0a0.58 0.58 0 1 0 -1.16 0M136.5 52.0a0.58 0.58 0 1 0 1.16 0a0.58 0.58 0 1 0 -1.16 0M138.6 51.8a0.58 0.58 0 1 0 1.16 0a0.58 0.58 0 1 0 -1.16 0M141.6 51.2a0.58 0.58 0 1 0 1.16 0a0.58 0.58 0 1 0 -1.16 0M144.9 50.5a0.58 0.58 0 1 0 1.16 0a0.58 0.58 0 1 0 -1.16 0M145.6 50.1a0.58 0.58 0 1 0 1.16 0a0.58 0.58 0 1 0 -1.16 0M150.2 51.9a0.58 0.58 0 1 0 1.16 0a0.58 0.58 0 1 0 -1.16 0M152.8 52.4a0.58 0.58 0 1 0 1.16 0a0.58 0.58 0 1 0 -1.16 0M155.2 52.2a0.58 0.58 0 1 0 1.16 0a0.58 0.58 0 1 0 -1.16 0M157.9 52.4a0.58 0.58 0 1 0 1.16 0a0.58 0.58 0 1 0 -1.16 0M160.3 50.1a0.58 0.58 0 1 0 1.16 0a0.58 0.58 0 1 0 -1.16 0M161.4 50.8a0.58 0.58 0 1 0 1.16 0a0.58 0.58 0 1 0 -1.16 0M163.4 50.5a0.58 0.58 0 1 0 1.16 0a0.58 0.58 0 1 0 -1.16 0M120.4 53.5a0.58 0.58 0 1 0 1.16 0a0.58 0.58 0 1 0 -1.16 0M124.0 52.9a0.58 0.58 0 1 0 1.16 0a0.58 0.58 0 1 0 -1.16 0M126.3 54.3a0.58 0.58 0 1 0 1.16 0a0.58 0.58 0 1 0 -1.16 0M129.3 54.4a0.58 0.58 0 1 0 1.16 0a0.58 0.58 0 1 0 -1.16 0M132.8 54.1a0.58 0.58 0 1 0 1.16 0a0.58 0.58 0 1 0 -1.16 0M135.3 52.6a0.58 0.58 0 1 0 1.16 0a0.58 0.58 0 1 0 -1.16 0M136.9 53.1a0.58 0.58 0 1 0 1.16 0a0.58 0.58 0 1 0 -1.16 0M139.6 53.4a0.58 0.58 0 1 0 1.16 0a0.58 0.58 0 1 0 -1.16 0M141.0 54.6a0.58 0.58 0 1 0 1.16 0a0.58 0.58 0 1 0 -1.16 0M143.5 54.3a0.58 0.58 0 1 0 1.16 0a0.58 0.58 0 1 0 -1.16 0M146.6 54.1a0.58 0.58 0 1 0 1.16 0a0.58 0.58 0 1 0 -1.16 0M150.1 53.9a0.58 0.58 0 1 0 1.16 0a0.58 0.58 0 1 0 -1.16 0M152.0 54.2a0.58 0.58 0 1 0 1.16 0a0.58 0.58 0 1 0 -1.16 0M153.6 53.8a0.58 0.58 0 1 0 1.16 0a0.58 0.58 0 1 0 -1.16 0M156.0 54.8a0.58 0.58 0 1 0 1.16 0a0.58 0.58 0 1 0 -1.16 0M160.2 53.1a0.58 0.58 0 1 0 1.16 0a0.58 0.58 0 1 0 -1.16 0M116.9 56.9a0.58 0.58 0 1 0 1.16 0a0.58 0.58 0 1 0 -1.16 0M123.4 55.1a0.58 0.58 0 1 0 1.16 0a0.58 0.58 0 1 0 -1.16 0M127.3 56.6a0.58 0.58 0 1 0 1.16 0a0.58 0.58 0 1 0 -1.16 0M129.3 57.4a0.58 0.58 0 1 0 1.16 0a0.58 0.58 0 1 0 -1.16 0M132.7 55.1a0.58 0.58 0 1 0 1.16 0a0.58 0.58 0 1 0 -1.16 0M133.6 56.4a0.58 0.58 0 1 0 1.16 0a0.58 0.58 0 1 0 -1.16 0M137.9 56.4a0.58 0.58 0 1 0 1.16 0a0.58 0.58 0 1 0 -1.16 0M139.2 56.3a0.58 0.58 0 1 0 1.16 0a0.58 0.58 0 1 0 -1.16 0M140.5 57.0a0.58 0.58 0 1 0 1.16 0a0.58 0.58 0 1 0 -1.16 0M144.5 57.3a0.58 0.58 0 1 0 1.16 0a0.58 0.58 0 1 0 -1.16 0M147.6 57.2a0.58 0.58 0 1 0 1.16 0a0.58 0.58 0 1 0 -1.16 0M148.0 55.8a0.58 0.58 0 1 0 1.16 0a0.58 0.58 0 1 0 -1.16 0M151.0 55.0a0.58 0.58 0 1 0 1.16 0a0.58 0.58 0 1 0 -1.16 0M154.3 57.2a0.58 0.58 0 1 0 1.16 0a0.58 0.58 0 1 0 -1.16 0M156.6 56.3a0.58 0.58 0 1 0 1.16 0a0.58 0.58 0 1 0 -1.16 0M162.2 56.9a0.58 0.58 0 1 0 1.16 0a0.58 0.58 0 1 0 -1.16 0M118.5 57.9a0.58 0.58 0 1 0 1.16 0a0.58 0.58 0 1 0 -1.16 0M121.4 59.1a0.58 0.58 0 1 0 1.16 0a0.58 0.58 0 1 0 -1.16 0M127.0 59.2a0.58 0.58 0 1 0 1.16 0a0.58 0.58 0 1 0 -1.16 0M129.5 59.0a0.58 0.58 0 1 0 1.16 0a0.58 0.58 0 1 0 -1.16 0M132.5 57.9a0.58 0.58 0 1 0 1.16 0a0.58 0.58 0 1 0 -1.16 0M133.5 57.9a0.58 0.58 0 1 0 1.16 0a0.58 0.58 0 1 0 -1.16 0M137.0 58.0a0.58 0.58 0 1 0 1.16 0a0.58 0.58 0 1 0 -1.16 0M138.4 58.5a0.58 0.58 0 1 0 1.16 0a0.58 0.58 0 1 0 -1.16 0M141.1 58.1a0.58 0.58 0 1 0 1.16 0a0.58 0.58 0 1 0 -1.16 0M143.8 57.5a0.58 0.58 0 1 0 1.16 0a0.58 0.58 0 1 0 -1.16 0M147.4 58.8a0.58 0.58 0 1 0 1.16 0a0.58 0.58 0 1 0 -1.16 0M148.6 58.6a0.58 0.58 0 1 0 1.16 0a0.58 0.58 0 1 0 -1.16 0M151.3 57.8a0.58 0.58 0 1 0 1.16 0a0.58 0.58 0 1 0 -1.16 0M153.3 58.2a0.58 0.58 0 1 0 1.16 0a0.58 0.58 0 1 0 -1.16 0M155.7 59.3a0.58 0.58 0 1 0 1.16 0a0.58 0.58 0 1 0 -1.16 0M158.3 57.9a0.58 0.58 0 1 0 1.16 0a0.58 0.58 0 1 0 -1.16 0M162.7 59.5a0.58 0.58 0 1 0 1.16 0a0.58 0.58 0 1 0 -1.16 0M121.0 60.6a0.58 0.58 0 1 0 1.16 0a0.58 0.58 0 1 0 -1.16 0M123.9 61.6a0.58 0.58 0 1 0 1.16 0a0.58 0.58 0 1 0 -1.16 0M126.2 60.9a0.58 0.58 0 1 0 1.16 0a0.58 0.58 0 1 0 -1.16 0M128.1 61.9a0.58 0.58 0 1 0 1.16 0a0.58 0.58 0 1 0 -1.16 0M131.8 60.2a0.58 0.58 0 1 0 1.16 0a0.58 0.58 0 1 0 -1.16 0M134.2 61.0a0.58 0.58 0 1 0 1.16 0a0.58 0.58 0 1 0 -1.16 0M135.7 60.8a0.58 0.58 0 1 0 1.16 0a0.58 0.58 0 1 0 -1.16 0M138.4 61.3a0.58 0.58 0 1 0 1.16 0a0.58 0.58 0 1 0 -1.16 0M140.7 60.4a0.58 0.58 0 1 0 1.16 0a0.58 0.58 0 1 0 -1.16 0M144.9 61.3a0.58 0.58 0 1 0 1.16 0a0.58 0.58 0 1 0 -1.16 0M146.3 61.1a0.58 0.58 0 1 0 1.16 0a0.58 0.58 0 1 0 -1.16 0M150.3 60.2a0.58 0.58 0 1 0 1.16 0a0.58 0.58 0 1 0 -1.16 0M151.4 60.2a0.58 0.58 0 1 0 1.16 0a0.58 0.58 0 1 0 -1.16 0M153.9 60.7a0.58 0.58 0 1 0 1.16 0a0.58 0.58 0 1 0 -1.16 0M159.7 62.0a0.58 0.58 0 1 0 1.16 0a0.58 0.58 0 1 0 -1.16 0M162.6 60.0a0.58 0.58 0 1 0 1.16 0a0.58 0.58 0 1 0 -1.16 0M128.2 62.8a0.58 0.58 0 1 0 1.16 0a0.58 0.58 0 1 0 -1.16 0M132.3 62.8a0.58 0.58 0 1 0 1.16 0a0.58 0.58 0 1 0 -1.16 0M134.0 64.2a0.58 0.58 0 1 0 1.16 0a0.58 0.58 0 1 0 -1.16 0M137.9 64.8a0.58 0.58 0 1 0 1.16 0a0.58 0.58 0 1 0 -1.16 0M139.6 64.8a0.58 0.58 0 1 0 1.16 0a0.58 0.58 0 1 0 -1.16 0M142.6 64.0a0.58 0.58 0 1 0 1.16 0a0.58 0.58 0 1 0 -1.16 0M143.7 62.7a0.58 0.58 0 1 0 1.16 0a0.58 0.58 0 1 0 -1.16 0M147.2 63.4a0.58 0.58 0 1 0 1.16 0a0.58 0.58 0 1 0 -1.16 0M148.6 65.0a0.58 0.58 0 1 0 1.16 0a0.58 0.58 0 1 0 -1.16 0M152.1 63.1a0.58 0.58 0 1 0 1.16 0a0.58 0.58 0 1 0 -1.16 0M155.2 64.2a0.58 0.58 0 1 0 1.16 0a0.58 0.58 0 1 0 -1.16 0M156.9 62.7a0.58 0.58 0 1 0 1.16 0a0.58 0.58 0 1 0 -1.16 0M158.0 64.3a0.58 0.58 0 1 0 1.16 0a0.58 0.58 0 1 0 -1.16 0M160.5 64.9a0.58 0.58 0 1 0 1.16 0a0.58 0.58 0 1 0 -1.16 0M128.5 65.2a0.58 0.58 0 1 0 1.16 0a0.58 0.58 0 1 0 -1.16 0M132.4 67.1a0.58 0.58 0 1 0 1.16 0a0.58 0.58 0 1 0 -1.16 0M137.5 65.8a0.58 0.58 0 1 0 1.16 0a0.58 0.58 0 1 0 -1.16 0M139.5 66.4a0.58 0.58 0 1 0 1.16 0a0.58 0.58 0 1 0 -1.16 0M140.8 66.1a0.58 0.58 0 1 0 1.16 0a0.58 0.58 0 1 0 -1.16 0M145.3 66.4a0.58 0.58 0 1 0 1.16 0a0.58 0.58 0 1 0 -1.16 0M147.5 66.0a0.58 0.58 0 1 0 1.16 0a0.58 0.58 0 1 0 -1.16 0M150.3 66.5a0.58 0.58 0 1 0 1.16 0a0.58 0.58 0 1 0 -1.16 0M154.5 66.5a0.58 0.58 0 1 0 1.16 0a0.58 0.58 0 1 0 -1.16 0M161.6 67.4a0.58 0.58 0 1 0 1.16 0a0.58 0.58 0 1 0 -1.16 0M123.9 67.7a0.58 0.58 0 1 0 1.16 0a0.58 0.58 0 1 0 -1.16 0M126.6 67.9a0.58 0.58 0 1 0 1.16 0a0.58 0.58 0 1 0 -1.16 0M131.5 69.1a0.58 0.58 0 1 0 1.16 0a0.58 0.58 0 1 0 -1.16 0M135.5 69.1a0.58 0.58 0 1 0 1.16 0a0.58 0.58 0 1 0 -1.16 0M139.3 68.3a0.58 0.58 0 1 0 1.16 0a0.58 0.58 0 1 0 -1.16 0M142.3 67.7a0.58 0.58 0 1 0 1.16 0a0.58 0.58 0 1 0 -1.16 0M143.0 67.6a0.58 0.58 0 1 0 1.16 0a0.58 0.58 0 1 0 -1.16 0M148.6 69.7a0.58 0.58 0 1 0 1.16 0a0.58 0.58 0 1 0 -1.16 0M154.5 68.6a0.58 0.58 0 1 0 1.16 0a0.58 0.58 0 1 0 -1.16 0M157.9 68.2a0.58 0.58 0 1 0 1.16 0a0.58 0.58 0 1 0 -1.16 0M161.8 68.8a0.58 0.58 0 1 0 1.16 0a0.58 0.58 0 1 0 -1.16 0M160.4 70.3a0.58 0.58 0 1 0 1.16 0a0.58 0.58 0 1 0 -1.16 0" fill="#e01414"/>
<path d="M135.0 41.0l-0.8 -0.9M136.1 40.1l-0.2 -1.2M137.6 39.8l0.4 -1.1M138.2 38.0l-1.2 0.1M135.9 41.0l0.7 -1.0M134.3 40.2l-0.1 1.2M134.4 38.5l1.1 0.4M140.8 41.1l-0.7 -1.0M140.2 42.7l1.2 0.2M141.1 44.1l-0.5 1.1M148.3 42.1l0.6 1.0M130.6 49.1l1.2 -0.2M133.8 47.9l0.5 -1.1M135.6 47.3l0.0 -1.2M136.8 46.8l0.3 1.2M136.0 45.5l-1.0 -0.7M139.0 43.9l-0.2 1.2M138.0 43.5l1.2 -0.1M136.6 42.9l0.0 -1.2M145.1 48.1l-0.4 1.1M145.3 49.3l-1.1 0.4M144.2 50.7l0.9 0.8M146.5 44.0l-1.0 -0.7M148.0 42.9l0.6 1.0M150.1 42.5l0.2 -1.2M132.3 49.1l1.2 -0.1M133.9 48.2l-0.8 -0.9M137.7 51.4l0.4 -1.1M138.0 53.0l1.2 0.2M142.0 49.5l-0.2 -1.2M144.8 51.3l-0.9 0.8M147.4 43.4l-0.4 -1.1M153.7 50.1l0.3 -1.2M154.9 51.4l1.2 -0.3M156.0 52.4l-0.5 1.1M155.9 53.1l-1.2 0.2M155.6 54.3l-1.1 -0.5M156.1 55.8l-0.9 0.8M156.5 57.4l-1.1 0.5M131.2 51.5l1.0 0.7M134.8 53.2l-0.6 -1.0M133.8 50.3l1.1 -0.4M132.6 48.8l0.9 -0.8M139.4 50.4l0.9 0.7M138.0 47.9l-1.0 0.6M141.6 51.8l1.0 -0.7M145.8 56.5l1.1 -0.4M145.4 58.4l-1.1 0.4M153.2 51.9l0.2 1.2M154.2 50.8l0.5 1.1M156.3 54.8l0.0 -1.2M157.8 53.7l-0.2 -1.2M159.2 54.5l-0.9 0.8M132.2 61.7l-0.5 1.1M132.7 53.7l-1.2 -0.2M137.5 60.9l1.2 -0.1M141.5 55.8l1.1 0.5M141.8 54.4l-1.2 -0.2M140.8 53.1l-1.2 0.2M138.9 54.7l-0.9 0.8M137.4 54.7l-0.6 1.0M149.9 57.5l-0.7 -1.0M150.8 60.5l-1.2 0.1M148.6 59.1l0.8 0.9M150.8 57.9l0.8 0.9M150.8 59.3l-1.1 -0.5M151.9 59.8l-0.2 1.2M153.8 57.9l0.8 -0.9M130.7 58.3l-0.7 -1.0M132.0 58.1l0.5 1.1M133.4 57.0l-0.5 -1.1M135.8 62.5l-0.1 1.2M137.1 63.2l-0.0 1.2M137.0 60.8l0.5 1.1M137.0 63.8l1.0 0.6M137.7 65.1l0.8 -0.9M143.9 58.4l1.2 -0.2M144.6 57.5l-1.1 -0.5M146.4 56.6l0.4 1.1M147.9 61.5l-1.1 0.4M148.5 62.2l1.1 0.6M137.8 66.0l0.1 -1.2M137.4 64.7l0.3 1.2M136.1 64.9l-0.4 1.1M141.5 65.0l-0.9 -0.8M139.8 65.0l0.1 1.2M148.2 63.6l-0.5 -1.1M149.7 63.6l-0.1 1.2M155.4 66.2l-0.4 -1.1M139.2 70.1l1.2 -0.2M140.3 71.3l-0.6 1.1M145.3 69.8l0.0 1.2" stroke="#a8aeae" stroke-width="0.55" fill="none"/>
<path d="M133.6 41.4L135.0 41.0L136.1 40.1L137.6 39.8L138.2 38.0M139.1 42.5L137.3 41.8L135.9 41.0L134.3 40.2L134.4 38.5M149.9 41.8L148.3 42.1L148.0 43.5M130.9 47.1L132.5 47.1L133.8 47.9L135.6 47.3L136.8 46.8M135.8 47.2L136.0 45.5L137.0 43.9L139.0 43.9M138.1 44.8L138.0 43.5L136.6 42.9L135.4 43.7M143.7 47.4L145.1 48.1L145.3 49.3L144.2 50.7M145.6 45.6L146.5 44.0L148.0 42.9M150.9 46.4L151.9 44.8L151.5 43.2L150.1 42.5M132.2 50.8L132.3 49.1L133.9 48.2L134.1 46.8M136.1 50.4L137.7 51.4L138.0 53.0L139.5 54.1M144.4 47.7L145.4 46.0L145.8 44.5L147.4 43.4M148.1 50.8L149.4 51.8L149.1 53.6L150.2 54.4L151.4 55.1M150.9 48.8L152.1 49.0L153.7 50.1L154.9 51.4L156.0 52.4M155.9 51.4L155.9 53.1L155.6 54.3L156.1 55.8L156.5 57.4M129.6 53.7L130.0 52.0L131.2 51.5M131.8 54.6L133.8 54.4L134.8 53.2M134.1 52.2L133.8 50.3L132.6 48.8L132.1 47.2M145.8 54.6L145.8 56.5L145.4 58.4M150.2 52.9L151.7 51.9L153.2 51.9L154.2 50.8L154.2 49.3M154.6 54.4L156.3 54.8L157.8 53.7L159.2 54.5L160.7 54.2M128.9 58.3L129.8 60.1L130.8 61.0L132.2 61.7M133.6 58.6L133.4 56.8L132.3 55.6L132.7 53.7M137.4 58.9L137.5 60.9L136.1 61.5M140.7 57.6L141.5 55.8L141.8 54.4L140.8 53.1M142.0 56.2L140.8 56.6L139.8 55.7L138.9 54.7L137.4 54.7M148.2 58.0L149.9 57.5L151.1 58.9L150.8 60.5M150.9 58.7L149.7 58.3L148.6 59.1M152.7 55.7L152.3 57.2L150.8 57.9L150.8 59.3L151.9 59.8M156.9 57.7L155.2 58.3L153.8 57.9L152.6 58.7L151.3 58.3M129.8 59.9L130.7 58.3L132.0 58.1L133.4 57.0M134.8 61.7L135.8 62.5L137.1 63.2M138.3 59.7L137.0 60.8L137.3 62.6L137.0 63.8L137.7 65.1M144.4 59.7L143.9 58.4L144.6 57.5L146.4 56.6M146.2 59.5L147.5 59.7L147.9 61.5M136.2 65.3L137.8 66.0L137.8 67.2L139.4 68.3M140.1 64.9L139.1 64.2L137.4 64.7L136.1 64.9M146.9 64.5L148.2 63.6L149.7 63.6M151.1 64.4L152.4 65.7L153.7 66.0L155.4 66.2M140.0 67.0L139.5 68.8L139.2 70.1L140.3 71.3L139.8 72.9M142.4 67.4L144.0 68.0L144.1 69.2L145.3 69.8" stroke="#6a7373" stroke-width="0.7" fill="none" stroke-linejoin="round"/>
<path d="M142.4 41.0L140.8 41.1L140.2 42.7L141.1 44.1L142.4 44.7M129.7 47.6L130.6 49.1L131.2 50.5L132.9 51.6M140.3 49.7L142.0 49.5L143.3 50.4L144.8 51.3M138.6 51.5L139.4 50.4L139.3 48.8L138.0 47.9M144.4 52.8L143.0 53.1L141.6 51.8M149.7 60.8L148.5 62.2L148.2 63.8M142.8 64.5L141.5 65.0L139.8 65.0L138.7 65.9" stroke="#363c3c" stroke-width="0.7" fill="none" stroke-linejoin="round"/>
<path d="M133.1 41.4a0.58 0.58 0 1 0 1.16 0a0.58 0.58 0 1 0 -1.16 0M138.5 42.5a0.58 0.58 0 1 0 1.16 0a0.58 0.58 0 1 0 -1.16 0M141.8 41.0a0.58 0.58 0 1 0 1.16 0a0.58 0.58 0 1 0 -1.16 0M149.3 41.8a0.58 0.58 0 1 0 1.16 0a0.58 0.58 0 1 0 -1.16 0M129.2 47.6a0.58 0.58 0 1 0 1.16 0a0.58 0.58 0 1 0 -1.16 0M130.3 47.1a0.58 0.58 0 1 0 1.16 0a0.58 0.58 0 1 0 -1.16 0M135.3 47.2a0.58 0.58 0 1 0 1.16 0a0.58 0.58 0 1 0 -1.16 0M137.5 44.8a0.58 0.58 0 1 0 1.16 0a0.58 0.58 0 1 0 -1.16 0M143.1 47.4a0.58 0.58 0 1 0 1.16 0a0.58 0.58 0 1 0 -1.16 0M145.0 45.6a0.58 0.58 0 1 0 1.16 0a0.58 0.58 0 1 0 -1.16 0M150.3 46.4a0.58 0.58 0 1 0 1.16 0a0.58 0.58 0 1 0 -1.16 0M131.7 50.8a0.58 0.58 0 1 0 1.16 0a0.58 0.58 0 1 0 -1.16 0M135.5 50.4a0.58 0.58 0 1 0 1.16 0a0.58 0.58 0 1 0 -1.16 0M139.8 49.7a0.58 0.58 0 1 0 1.16 0a0.58 0.58 0 1 0 -1.16 0M143.8 47.7a0.58 0.58 0 1 0 1.16 0a0.58 0.58 0 1 0 -1.16 0M147.5 50.8a0.58 0.58 0 1 0 1.16 0a0.58 0.58 0 1 0 -1.16 0M150.3 48.8a0.58 0.58 0 1 0 1.16 0a0.58 0.58 0 1 0 -1.16 0M155.3 51.4a0.58 0.58 0 1 0 1.16 0a0.58 0.58 0 1 0 -1.16 0M129.0 53.7a0.58 0.58 0 1 0 1.16 0a0.58 0.58 0 1 0 -1.16 0M131.3 54.6a0.58 0.58 0 1 0 1.16 0a0.58 0.58 0 1 0 -1.16 0M133.5 52.2a0.58 0.58 0 1 0 1.16 0a0.58 0.58 0 1 0 -1.16 0M138.0 51.5a0.58 0.58 0 1 0 1.16 0a0.58 0.58 0 1 0 -1.16 0M143.8 52.8a0.58 0.58 0 1 0 1.16 0a0.58 0.58 0 1 0 -1.16 0M145.2 54.6a0.58 0.58 0 1 0 1.16 0a0.58 0.58 0 1 0 -1.16 0M149.6 52.9a0.58 0.58 0 1 0 1.16 0a0.58 0.58 0 1 0 -1.16 0M154.0 54.4a0.58 0.58 0 1 0 1.16 0a0.58 0.58 0 1 0 -1.16 0M128.3 58.3a0.58 0.58 0 1 0 1.16 0a0.58 0.58 0 1 0 -1.16 0M133.0 58.6a0.58 0.58 0 1 0 1.16 0a0.58 0.58 0 1 0 -1.16 0M136.8 58.9a0.58 0.58 0 1 0 1.16 0a0.58 0.58 0 1 0 -1.16 0M140.1 57.6a0.58 0.58 0 1 0 1.16 0a0.58 0.58 0 1 0 -1.16 0M141.4 56.2a0.58 0.58 0 1 0 1.16 0a0.58 0.58 0 1 0 -1.16 0M147.7 58.0a0.58 0.58 0 1 0 1.16 0a0.58 0.58 0 1 0 -1.16 0M150.3 58.7a0.58 0.58 0 1 0 1.16 0a0.58 0.58 0 1 0 -1.16 0M152.1 55.7a0.58 0.58 0 1 0 1.16 0a0.58 0.58 0 1 0 -1.16 0M156.3 57.7a0.58 0.58 0 1 0 1.16 0a0.58 0.58 0 1 0 -1.16 0M129.2 59.9a0.58 0.58 0 1 0 1.16 0a0.58 0.58 0 1 0 -1.16 0M134.2 61.7a0.58 0.58 0 1 0 1.16 0a0.58 0.58 0 1 0 -1.16 0M137.7 59.7a0.58 0.58 0 1 0 1.16 0a0.58 0.58 0 1 0 -1.16 0M143.8 59.7a0.58 0.58 0 1 0 1.16 0a0.58 0.58 0 1 0 -1.16 0M145.7 59.5a0.58 0.58 0 1 0 1.16 0a0.58 0.58 0 1 0 -1.16 0M149.1 60.8a0.58 0.58 0 1 0 1.16 0a0.58 0.58 0 1 0 -1.16 0M135.7 65.3a0.58 0.58 0 1 0 1.16 0a0.58 0.58 0 1 0 -1.16 0M139.5 64.9a0.58 0.58 0 1 0 1.16 0a0.58 0.58 0 1 0 -1.16 0M142.3 64.5a0.58 0.58 0 1 0 1.16 0a0.58 0.58 0 1 0 -1.16 0M146.3 64.5a0.58 0.58 0 1 0 1.16 0a0.58 0.58 0 1 0 -1.16 0M150.5 64.4a0.58 0.58 0 1 0 1.16 0a0.58 0.58 0 1 0 -1.16 0M139.4 67.0a0.58 0.58 0 1 0 1.16 0a0.58 0.58 0 1 0 -1.16 0M141.8 67.4a0.58 0.58 0 1 0 1.16 0a0.58 0.58 0 1 0 -1.16 0" fill="#e01414"/>
<path d="M126.0 73.2L156.9 73.69" stroke="#6a6a6a" stroke-width="1.7" fill="none" opacity="0.5"/>
<path d="M126.0 73.2L156.9 73.69" stroke="#2a2a2a" stroke-width="1.25" stroke-dasharray="1.0 0.4" fill="none"/>
<path d="M156.9 73.69L164.6 74.1" stroke="#3a3a3a" stroke-width="0.8" fill="none"/>
<path d="M126.0 79.0L156.9 78.95" stroke="#6a6a6a" stroke-width="1.7" fill="none" opacity="0.5"/>
<path d="M126.0 79.0L156.9 78.95" stroke="#2a2a2a" stroke-width="1.25" stroke-dasharray="1.0 0.4" fill="none"/>
<path d="M156.9 78.95L164.6 78.9" stroke="#3a3a3a" stroke-width="0.8" fill="none"/>
<path d="M102.6 75.6L107.5 71.5L107.5 73.39999999999999L120.6 73.39999999999999L120.6 77.8L107.5 77.8L107.5 79.69999999999999Z" fill="#2362b5"/>
<rect x="122.1" y="71.5" width="4.1000000000000085" height="8.3" fill="#1c45d6"/>
<text x="110.00" y="70.90" font-size="8.5" text-anchor="start" fill="#1a2fd0" font-weight="bold" font-style="italic" stroke="none">v</text>
<rect x="42.5" y="82.5" width="131" height="76.0" fill="#fff" stroke="#d2d2d2" stroke-width="1"/>
<path d="M101.60000000000001 81.2L104.4 81.2L106.2 84.5L108.0 81.2L110.8 81.2L110.8 84.60000000000001L106.2 88.3L101.60000000000001 84.60000000000001Z" fill="#9e9e9e"/>
<path d="M102.2 88.7L106.3 91.2L110.39999999999999 88.7L110.39999999999999 91.9L106.3 94.4L102.2 91.9Z" fill="#9e9e9e"/>
<text x="163.70" y="100.20" font-size="6.6" text-anchor="middle" fill="#262626"  stroke="#262626" stroke-width="0.15">Fixed</text>
<text x="163.70" y="107.30" font-size="6.6" text-anchor="middle" fill="#262626"  stroke="#262626" stroke-width="0.15">Part</text>
<rect x="165.4" y="111.6" width="7.799999999999983" height="37.70000000000002" fill="#d2d2d2"/>
<path d="M172.3 146.8h0.6M165.8 114.7h0.6M171.4 138.9h0.6M170.2 123.0h0.6M169.8 134.1h0.6M169.6 117.5h0.6M168.5 126.2h0.6M170.6 148.5h0.6M172.2 131.8h0.6M168.6 121.6h0.6M165.7 112.6h0.6M168.7 123.4h0.6M168.1 144.7h0.6M169.2 132.4h0.6M167.1 112.5h0.6M167.7 116.7h0.6M169.1 148.7h0.6M170.3 118.3h0.6M171.8 141.2h0.6M170.7 145.2h0.6M170.9 140.9h0.6M167.9 148.0h0.6M172.3 117.6h0.6M170.8 138.1h0.6M168.7 131.3h0.6M168.9 145.9h0.6M169.0 142.4h0.6M167.9 144.4h0.6M171.9 128.7h0.6M169.5 145.7h0.6M170.6 129.7h0.6M167.0 123.6h0.6M170.4 117.8h0.6M171.9 121.5h0.6M172.0 123.1h0.6M172.3 137.8h0.6M169.0 130.8h0.6M170.1 133.4h0.6M167.6 119.3h0.6M169.1 146.3h0.6M169.9 114.4h0.6M171.3 138.5h0.6M171.9 118.7h0.6M170.8 113.8h0.6M170.1 121.7h0.6M167.0 144.1h0.6M166.2 131.0h0.6M171.5 120.7h0.6M166.9 144.3h0.6M168.4 138.2h0.6M165.6 125.0h0.6M166.6 136.6h0.6M166.0 147.0h0.6M165.6 138.7h0.6M165.6 121.1h0.6M171.3 117.4h0.6M166.7 137.3h0.6M168.2 113.2h0.6M172.5 117.2h0.6M165.7 124.4h0.6M169.8 139.1h0.6M166.2 124.1h0.6M165.6 128.2h0.6M170.9 139.1h0.6M171.9 139.6h0.6M171.6 137.8h0.6M168.8 120.0h0.6M170.2 123.3h0.6M166.1 128.2h0.6M171.7 116.3h0.6M169.6 126.2h0.6M169.1 116.9h0.6M172.3 121.2h0.6M169.8 127.2h0.6M165.5 132.3h0.6M166.4 113.7h0.6M165.6 117.6h0.6M166.1 135.2h0.6M169.1 148.1h0.6M172.1 148.5h0.6M167.1 128.1h0.6M167.2 133.5h0.6M169.9 141.3h0.6M170.5 121.1h0.6M168.4 131.1h0.6M165.4 112.9h0.6M168.3 115.7h0.6M170.6 120.5h0.6M166.1 118.3h0.6M167.1 119.7h0.6M169.1 128.8h0.6M167.6 135.4h0.6M166.9 145.2h0.6M172.3 138.6h0.6M168.5 130.6h0.6M169.6 113.5h0.6M168.4 131.1h0.6M166.7 115.1h0.6M171.2 125.2h0.6M169.1 145.8h0.6M169.8 122.3h0.6M172.5 125.4h0.6M165.5 137.0h0.6M166.1 122.9h0.6M171.5 136.6h0.6M165.5 128.3h0.6M168.4 129.6h0.6M166.9 133.4h0.6M165.9 122.1h0.6M168.1 146.3h0.6M166.0 139.6h0.6M166.8 132.8h0.6M168.2 128.8h0.6M170.8 126.3h0.6M166.3 116.1h0.6M166.0 143.1h0.6M170.0 147.2h0.6M170.4 112.5h0.6M170.1 140.4h0.6M170.6 130.1h0.6M168.0 128.6h0.6M171.2 121.6h0.6M169.2 129.3h0.6M172.3 141.4h0.6M172.1 142.6h0.6M167.5 120.2h0.6M168.9 121.2h0.6M168.5 136.8h0.6M172.0 133.3h0.6M171.3 115.2h0.6M168.0 148.6h0.6M166.5 127.1h0.6M165.9 114.8h0.6M171.8 148.3h0.6M170.1 116.4h0.6M167.5 120.2h0.6M170.2 136.9h0.6M168.6 131.0h0.6M166.2 131.7h0.6M172.2 139.6h0.6M166.1 130.8h0.6M170.6 121.1h0.6M171.8 128.7h0.6M170.5 126.6h0.6M172.6 140.6h0.6M169.5 117.0h0.6M168.6 112.7h0.6" stroke="#bdbdbd" stroke-width="0.6" fill="none"/>
<path d="M157.3 113.5l-0.2 -1.2M156.6 112.3l1.0 -0.6M160.2 113.3l-1.0 0.6M157.5 111.1l-1.1 0.5M156.5 110.1l0.9 -0.8M162.6 112.2l-1.2 -0.1M163.2 110.4l-1.2 -0.3M165.0 110.2l-0.2 -1.2M153.2 115.6l-0.4 1.1M152.1 115.0l-0.9 0.8M156.9 116.4l-1.0 0.7M161.0 112.9l1.2 -0.1M162.7 117.3l-0.8 -0.9M152.6 118.6l1.2 -0.3M151.6 117.7l0.7 -0.9M150.4 117.0l-1.0 0.6M148.8 116.1l-0.5 1.1M154.0 122.7l1.2 0.1M155.6 117.2l-0.7 1.0M154.0 114.2l-1.2 0.3M162.6 124.5l1.1 -0.4M162.6 118.8l-0.7 -1.0M161.5 117.7l-1.1 0.5M130.1 122.0l0.7 1.0M131.7 122.8l0.7 -1.0M148.0 122.6l0.4 -1.1M146.7 122.7l-0.4 1.1M143.8 122.5l-0.2 1.2M155.0 123.7l1.1 -0.6M159.0 118.9l0.6 1.0M160.7 118.9l-0.1 1.2M162.3 119.7l0.9 -0.8M160.1 122.1l-0.1 -1.2M160.8 123.6l-1.2 0.2M162.0 126.5l-0.9 0.8M163.2 123.2l1.2 0.3M161.7 123.9l0.1 1.2M160.4 123.7l-0.0 -1.2M159.0 124.2l-0.7 -1.0M118.3 123.6l-1.0 -0.7M126.2 122.5l0.9 0.8M129.1 120.7l0.3 1.2M130.1 123.9l1.1 -0.5M131.4 123.6l0.8 0.9M131.8 122.7l1.1 -0.3M131.7 121.3l-1.1 0.4M133.1 122.6l0.4 -1.1M131.6 121.6l0.5 -1.1M128.2 122.2l-0.4 -1.1M137.6 126.1l0.5 -1.1M139.4 125.2l-0.2 -1.2M140.0 123.4l-1.0 -0.7M138.2 127.0l1.2 0.2M145.8 122.5l-1.2 0.2M144.9 121.0l0.8 -0.9M148.0 125.6l0.9 0.8M147.1 126.6l-1.1 -0.4M145.5 126.6l0.3 1.2M144.1 126.7l0.5 1.1M148.7 125.7l-0.9 -0.8M153.9 127.6l1.2 0.3M156.1 125.6l1.0 0.6M155.4 127.5l-1.2 0.3M159.8 123.4l-0.9 -0.8M161.3 124.0l-0.5 1.1M164.2 124.6l0.3 -1.2M161.8 124.8l1.0 0.6M161.8 126.4l1.1 -0.4M159.7 129.2l-1.0 -0.6M119.7 124.7l-0.6 1.0M118.6 123.6l-0.6 1.0M123.8 127.2l0.8 0.9M124.9 128.7l1.1 0.5M127.9 128.5l-0.0 -1.2M129.3 127.8l0.8 0.9M126.8 126.8l-0.8 0.9M124.8 124.4l1.2 -0.3M130.9 125.4l-1.0 -0.7M131.0 123.9l-1.1 -0.4M129.1 122.1l0.0 1.2M131.8 124.2l1.0 -0.6M135.4 127.3l1.2 -0.1M134.9 128.5l-1.2 -0.3M134.0 129.9l-0.9 -0.8M135.5 126.8l-0.4 -1.1M133.0 124.7l-1.2 0.0M140.1 129.1l-0.4 -1.1M146.8 125.3l-0.9 -0.8M147.3 122.5l1.1 0.5M146.2 121.4l0.9 -0.8M148.2 130.3l-1.1 0.5M150.8 125.2l1.2 -0.2M151.7 123.5l1.1 0.5M152.4 120.9l-1.1 -0.4M151.0 128.1l0.1 1.2M153.6 127.6l-0.9 -0.8M152.1 127.7l0.4 -1.1M151.0 129.0l-1.2 -0.2M160.8 127.9l1.2 -0.3M167.0 128.4l0.6 -1.0M121.6 127.5l0.9 0.7M123.3 128.2l0.5 -1.1M124.8 129.4l0.4 -1.1M126.0 130.3l0.2 1.2M126.8 131.8l-1.2 0.1M127.7 133.4l-0.9 0.7M126.6 129.1l0.1 -1.2M127.9 129.8l1.0 -0.7M126.4 128.9l0.8 -0.9M126.4 125.6l1.2 -0.1M129.7 129.1l0.6 -1.0M125.7 126.6l0.9 -0.8M133.5 129.4l1.1 -0.4M134.0 131.2l1.0 -0.7M133.8 130.2l0.4 1.1M131.1 131.0l0.9 0.8M138.8 130.9l1.1 -0.4M140.4 132.0l1.0 -0.6M141.2 132.9l1.2 -0.3M141.9 134.6l-1.2 0.2M141.0 131.5l1.1 0.4M140.5 133.0l1.1 0.5M140.1 125.6l1.2 -0.1M145.8 125.8l1.2 0.2M146.8 125.1l-1.0 -0.6M149.9 127.3l0.7 -1.0M154.1 127.7l1.2 -0.1M154.3 125.8l-1.2 0.0M155.7 126.9l-1.1 0.4M155.8 125.6l-1.2 -0.2M158.8 128.5l-0.9 -0.8M163.0 129.6l0.1 1.2M164.4 128.5l0.9 0.8M161.1 128.5l0.6 1.0M160.3 127.6l0.7 -1.0M117.2 131.3l1.2 0.2M118.3 130.0l-0.9 -0.8M122.1 133.3l0.2 -1.2M121.8 129.1l-0.2 1.2M120.3 129.5l-0.3 1.2M123.6 132.3l-0.8 -0.9M122.1 133.2l0.0 1.2M130.9 133.7l-0.8 0.9M128.0 131.3l-0.6 -1.1M126.4 133.0l-0.1 1.2M134.2 130.0l-1.1 -0.5M134.3 133.1l-0.7 -1.0M134.7 134.9l1.2 0.3M132.2 137.7l0.4 1.1M137.6 129.4l-1.2 0.3M136.2 128.3l-1.0 0.6M143.0 132.0l-0.8 0.9M144.4 133.4l0.6 -1.0M145.7 135.4l1.0 -0.7M144.6 132.0l0.0 -1.2M143.5 132.9l-0.9 -0.8M145.0 132.3l-0.3 -1.2M151.6 131.1l-1.1 -0.4M152.6 130.2l1.0 0.7M152.1 131.4l0.8 -0.9M152.2 129.9l-1.1 -0.4M157.4 130.2l0.6 1.1M155.8 127.3l-0.2 1.2M158.5 133.2l-0.7 -1.0M158.7 135.0l-1.1 0.5M161.3 135.9l-0.1 1.2M162.6 128.4l-1.2 -0.3M160.1 126.6l-0.0 1.2M114.6 135.2l0.9 0.8M113.2 136.1l-0.8 -0.8M111.6 136.5l0.4 1.1M119.7 132.7l-0.7 -1.0M121.5 132.1l0.2 1.2M122.5 131.0l0.9 0.8M121.6 132.8l1.2 0.0M120.6 131.2l0.7 -1.0M119.0 130.9l-0.4 -1.1M126.0 133.3l0.8 0.9M124.9 130.8l0.9 -0.8M125.3 133.2l0.4 -1.1M122.9 135.1l-0.9 -0.8M131.9 129.7l-1.1 0.6M131.1 128.7l0.8 -0.9M137.9 134.8l0.4 -1.1M139.2 133.7l0.7 1.0M135.4 134.4l-0.5 1.1M142.0 133.0l-1.2 0.1M141.8 131.5l1.1 -0.4M141.1 129.7l1.2 -0.2M142.8 134.8l-0.9 -0.7M141.5 135.3l0.6 1.1M149.1 129.3l1.1 0.5M150.0 136.3l-0.6 1.0M152.8 137.3l0.7 1.0M153.6 136.4l-1.0 -0.6M154.9 135.5l0.2 -1.2M156.6 135.6l0.0 -1.2M155.0 133.3l-1.2 0.3M158.9 131.3l0.8 -0.9M162.2 132.6l1.1 0.5M161.9 134.8l-1.2 -0.2M162.3 136.4l-1.1 0.5M162.9 137.8l-1.2 0.3M115.5 136.8l-0.8 0.9M119.5 138.1l-0.1 1.2M120.9 137.5l-0.1 -1.2M123.2 134.1l1.2 -0.2M126.7 137.0l0.2 -1.2M127.0 138.6l-1.2 -0.2M125.7 139.6l0.9 0.8M128.8 136.9l0.7 -1.0M130.4 137.0l0.0 1.2M132.6 136.3l0.1 -1.2M135.5 138.1l-0.3 1.2M136.6 137.2l-1.0 -0.7M133.7 138.6l1.1 0.4M135.2 139.4l0.7 -1.0M136.7 137.8l0.8 -0.9M137.2 139.2l-1.0 0.7M136.9 140.7l-1.1 -0.6M135.3 141.2l-0.3 -1.2M137.4 136.3l-0.4 1.1M136.0 133.9l-0.6 1.1M142.3 135.7l-0.4 -1.1M143.5 135.4l0.4 -1.1M146.8 138.9l-1.1 0.6M146.7 137.1l1.2 0.3M145.1 137.7l0.8 0.9M147.8 139.0l-0.2 -1.2M145.5 140.0l0.4 1.1M156.6 135.6l-0.7 -0.9M154.9 138.4l1.0 0.6M158.8 137.4l0.6 -1.0M163.0 138.6l-0.7 0.9M159.4 139.6l0.6 1.0M165.9 139.6l-1.2 0.1M112.3 138.1l0.5 -1.1M110.7 138.9l-0.1 -1.2M109.2 140.0l1.0 0.7M113.3 139.9l0.5 1.1M118.2 138.9l0.1 -1.2M117.2 137.3l-1.2 0.2M119.2 139.7l0.5 -1.1M124.5 139.3l-0.8 0.9M125.3 141.8l-1.1 0.5M125.0 143.5l-1.2 0.1M123.7 146.1l-0.9 -0.8M129.4 138.4l1.1 0.4M126.5 136.4l0.3 1.2M131.6 142.6l1.2 -0.3M134.3 141.1l0.8 0.9M131.8 143.0l1.0 0.7M137.9 136.1l-1.2 -0.0M137.1 134.5l0.8 -0.9M135.8 134.4l-0.4 1.1M142.5 141.1l-1.0 0.6M145.1 135.6l-1.2 -0.2M146.7 135.2l-0.7 -1.0M147.6 141.1l-0.9 0.7M148.1 142.6l-0.9 0.8M148.8 143.9l-1.0 0.7M148.8 138.9l0.0 1.2M147.6 141.7l-1.1 -0.4M148.2 143.0l1.0 -0.7M155.3 140.3l0.3 -1.2M157.0 140.9l0.5 -1.1M155.0 140.6l1.2 0.2M155.7 139.7l0.2 1.2M153.9 139.0l-0.9 0.8M161.3 137.5l-1.2 -0.3M162.6 137.0l0.3 1.2M163.1 135.5l1.2 0.3M162.9 133.9l1.1 -0.5M160.7 137.8l-0.8 0.9M112.0 140.7l0.5 -1.1M120.3 139.9l-0.2 1.2M122.1 139.8l0.5 -1.1M118.4 143.9l0.5 1.1M116.7 143.4l0.6 -1.0M122.9 143.0l0.7 -1.0M123.0 140.9l1.2 -0.3M120.0 141.4l0.2 -1.2M129.9 141.8l0.8 -0.9M130.9 143.5l0.8 -0.9M127.8 144.1l1.1 0.5M129.2 145.5l-0.3 1.2M129.7 146.8l1.2 -0.3M132.2 140.1l1.0 0.7M132.1 138.2l-1.1 0.5M131.1 137.5l-1.1 0.6M129.6 138.0l-0.0 -1.2M133.3 142.2l0.7 1.0M133.5 139.2l-1.2 -0.1M135.0 143.2l0.5 1.1M133.7 142.2l-1.0 0.7M132.3 142.8l0.2 1.2M139.2 144.7l-1.0 0.7M140.5 145.1l-0.0 -1.2M141.3 146.2l-1.2 0.2M141.1 141.4l0.4 1.1M142.5 141.5l0.5 -1.1M145.8 142.8l-1.0 0.6M148.5 143.3l0.0 -1.2M149.1 144.5l-1.2 0.2M151.2 143.1l0.7 -1.0M152.7 143.7l0.5 -1.1M151.0 142.7l1.2 -0.3M152.8 139.9l-0.0 1.2M151.2 139.8l0.3 -1.2M150.5 138.0l1.2 -0.1M156.5 144.0l0.8 -0.9M157.5 145.5l-1.1 0.4M160.2 143.0l0.9 -0.8M161.0 144.3l1.0 -0.6M159.1 138.8l0.9 -0.8M164.5 143.3l1.1 -0.4M165.0 146.6l1.1 -0.4M112.8 146.1l-0.5 1.1M113.3 146.4l1.2 -0.1M111.8 148.8l-0.7 -1.0M114.8 145.5l-0.9 -0.8M114.0 146.7l0.6 1.0M120.1 140.7l1.0 -0.7M125.1 146.5l1.0 -0.6M126.8 146.3l0.7 1.0M127.9 147.3l0.8 -0.9M125.5 146.6l-1.2 -0.2M124.8 147.7l-0.8 -0.9M124.7 150.7l1.0 -0.6M128.9 146.6l-1.2 0.1M128.3 147.7l1.1 0.5M125.6 149.8l-1.1 -0.5M133.1 141.2l1.1 -0.4M135.3 145.5l-0.2 -1.2M133.9 146.2l-0.4 -1.1M140.1 145.4l1.1 0.5M141.4 146.4l-0.9 0.8M142.6 146.6l0.1 -1.2M142.5 144.8l-0.3 1.2M141.1 144.9l-0.0 -1.2M144.7 146.1l0.5 1.1M140.3 145.2l0.3 -1.2M148.7 143.9l0.9 -0.8M145.7 142.5l0.3 -1.2M148.5 144.4l-0.8 -0.9M147.4 145.5l0.9 0.8M147.3 147.4l-1.1 -0.5M151.1 143.7l0.7 -1.0M149.7 145.0l0.5 1.1M150.4 142.3l-1.2 0.3M155.2 141.9l-0.9 0.8M162.3 144.7l-0.3 1.2M161.3 145.4l-0.3 -1.2M116.8 146.0l-0.4 1.1M117.8 147.2l-1.0 0.7M119.7 147.1l0.7 1.0M120.9 147.8l-0.7 1.0M120.7 149.1l1.2 0.0M119.0 150.1l0.2 1.2M123.5 149.1l-0.5 -1.1M127.6 144.6l-0.7 1.0M126.2 144.8l-0.1 1.2M133.7 146.8l-0.7 -1.0M130.8 147.4l-0.2 -1.2M130.2 148.9l-1.0 -0.6M130.0 150.3l-1.2 0.3M129.1 151.9l-0.9 -0.8M138.3 148.1l-1.2 0.3M139.8 149.2l-0.4 1.1M142.5 144.0l1.1 0.4M145.2 148.2l0.4 1.1M146.4 148.0l-0.7 -1.0M148.1 148.2l-0.2 1.2M146.2 147.6l0.2 -1.2M147.5 147.9l0.2 1.2M148.3 148.4l1.2 -0.0M150.0 149.5l0.5 -1.1M150.8 150.7l0.8 -0.9M151.6 151.9l0.6 -1.0M150.3 147.1l1.2 0.0M150.0 148.4l0.9 0.8M130.9 149.3l0.9 0.8M129.2 148.9l-0.6 1.0M137.0 152.1l-1.2 -0.2" stroke="#a8aeae" stroke-width="0.55" fill="none"/>
<path d="M158.7 113.5L157.3 113.5L156.6 112.3M161.0 114.4L160.2 113.3L158.7 112.1L157.5 111.1L156.5 110.1M162.2 113.3L162.6 112.2L163.2 110.4L165.0 110.2L166.6 109.5M155.1 116.2L153.2 115.6L152.1 115.0M157.5 117.5L156.9 116.4L156.7 115.1L158.0 114.0M161.6 116.2L160.7 114.8L161.0 112.9L162.1 112.3M154.8 119.7L154.7 121.4L154.0 122.7L154.8 124.4L156.5 124.6M157.3 119.9L156.7 118.3L155.6 117.2L155.0 115.8L154.0 114.2M161.2 119.4L162.2 120.6L161.6 121.8L161.4 123.3L162.6 124.5M163.8 118.6L162.6 118.8L161.5 117.7L160.2 117.8L158.6 117.1M126.9 122.9L128.5 122.9L130.1 122.0L131.7 122.8M149.7 123.0L148.0 122.6L146.7 122.7L145.5 123.1L143.8 122.5M153.1 122.0L154.5 122.5L155.0 123.7M161.1 122.0L160.8 123.6L161.2 124.9L162.0 126.5L163.6 126.9M163.3 122.0L163.2 123.2L161.7 123.9L160.4 123.7L159.0 124.2M122.4 123.6L121.0 123.1L119.4 122.7L118.3 123.6L117.8 124.8M125.6 123.8L126.2 122.5L127.8 121.4L129.1 120.7M128.9 123.1L130.1 123.9L131.4 123.6L131.9 122.4M131.4 124.3L131.8 122.7L131.7 121.3M134.0 123.5L133.1 122.6L131.6 121.6L129.9 121.3L128.2 122.2M136.1 125.3L137.6 126.1L139.4 125.2L140.0 123.4M138.0 125.4L138.2 127.0L139.7 128.2M143.4 125.0L144.1 123.3L144.0 121.7L142.9 120.9L141.9 119.4M146.7 124.2L145.8 122.5L144.9 121.0L143.5 120.2L142.0 120.3M148.7 124.1L148.0 125.6L147.1 126.6L145.5 126.6L144.1 126.7M151.8 124.9L150.3 125.3L148.7 125.7M158.5 124.0L159.8 123.4L161.3 124.0L162.5 125.2M161.0 125.3L162.7 124.3L164.2 124.6L165.3 123.9M162.1 123.0L161.8 124.8L161.8 126.4L161.3 128.0L159.7 129.2M120.5 125.6L119.7 124.7L118.6 123.6M124.8 126.9L124.9 128.7L126.3 129.2L127.9 128.5L129.3 127.8M128.5 127.6L126.8 126.8L126.0 126.0L124.8 124.4M134.0 127.7L134.0 126.3L132.8 125.5L131.8 124.2M135.4 125.8L135.4 127.3L134.9 128.5L134.0 129.9L134.8 131.2M137.8 125.7L136.9 126.9L135.5 126.8L133.7 126.4L133.0 124.7M145.6 126.4L146.8 125.3L147.2 123.8L147.3 122.5L146.2 121.4M151.3 126.5L150.8 125.2L151.7 123.5L152.7 122.1L152.4 120.9M154.5 126.3L153.6 127.6L152.1 127.7L151.0 129.0M160.1 126.8L160.8 127.9L162.1 128.9L161.7 130.6M163.9 127.6L165.8 128.2L167.0 128.4L168.5 128.6L170.1 127.5M120.6 128.5L121.6 127.5L123.3 128.2L124.8 129.4L125.4 130.9M124.0 130.2L126.0 130.3L126.8 131.8L127.7 133.4L128.0 135.4M127.3 130.3L126.4 128.9L126.2 127.1L126.4 125.6L127.2 124.2M131.3 129.4L129.7 129.1L128.0 128.2L126.5 127.7L125.7 126.6M132.4 128.4L133.5 129.4L134.0 131.2M135.2 129.9L133.8 130.2L132.6 129.7L131.1 131.0M141.2 129.6L141.0 131.5L140.5 133.0L141.2 134.2M143.1 129.6L141.4 128.7L140.1 127.4L140.1 125.6M147.9 129.4L147.8 130.7L148.6 132.2M153.8 129.4L154.1 127.7L154.3 125.8M156.1 128.7L155.7 126.9L155.8 125.6M157.4 129.3L158.8 128.5L160.7 128.6M162.8 128.1L161.1 128.5L160.3 127.6M116.4 132.7L117.2 131.3L118.3 130.0L118.5 128.8L117.7 127.5M117.9 130.8L119.2 129.6L120.6 129.0L121.2 128.0M120.2 133.0L122.1 133.3L123.3 132.8M123.7 132.1L123.4 130.2L121.8 129.1L120.3 129.5M128.4 132.1L129.4 133.2L130.9 133.7M131.0 131.2L129.5 130.4L128.0 131.3L127.6 132.7L126.4 133.0M134.4 132.7L133.8 131.1L134.2 130.0M146.5 132.2L144.6 132.0L143.5 132.9M147.7 131.9L146.3 131.3L145.0 132.3L143.9 133.3M153.6 132.4L152.1 131.4L152.2 129.9M159.1 131.2L157.8 129.8L157.3 127.9L155.8 127.3M159.6 132.5L158.5 133.2L158.7 135.0L159.6 135.9L161.3 135.9M162.8 130.9L162.1 129.7L162.6 128.4L161.4 127.1L160.1 126.6M117.1 133.5L118.7 133.9L119.7 132.7L121.5 132.1L122.5 131.0M121.5 134.8L121.6 132.8L120.6 131.2L119.0 130.9L117.3 131.2M125.2 135.1L126.0 133.3L125.2 132.2L124.9 130.8M127.1 133.8L125.3 133.2L124.0 133.6L122.9 135.1M129.6 133.9L128.6 135.5L129.2 136.9L131.1 136.9M132.3 134.6L131.8 132.8L132.8 131.3L131.9 129.7L131.1 128.7M143.9 134.0L142.8 134.8L141.5 135.3M146.0 134.8L147.2 133.1L147.7 131.9L148.3 130.7L149.1 129.3M148.8 134.8L150.0 136.3L151.4 137.5L152.8 137.3L153.6 136.4M149.7 133.0L151.1 132.8L151.7 131.0M157.9 134.4L159.8 134.0L161.1 133.6L162.7 132.6L164.2 132.5M161.2 134.2L162.2 132.6L163.6 132.8L164.8 133.8M162.1 133.5L161.9 134.8L162.3 136.4L162.9 137.8M116.7 137.4L115.5 136.8L114.4 137.5L112.8 138.3M118.0 137.7L119.5 138.1L120.9 137.5M120.9 136.9L121.3 138.3L120.5 139.6M123.9 137.3L123.3 135.7L123.2 134.1M125.5 136.7L126.7 137.0L127.0 138.6L125.7 139.6M127.3 136.0L128.8 136.9L130.4 137.0M131.4 135.9L132.6 136.3L133.8 137.8L135.5 138.1L136.6 137.2M135.3 137.7L136.7 137.8L137.2 139.2L136.9 140.7L135.3 141.2M144.0 137.4L145.4 137.7L146.8 138.9M146.1 136.7L146.8 135.1L148.0 134.5M150.0 137.2L149.7 138.4L147.8 139.0L147.2 140.1L145.5 140.0M155.3 136.9L154.9 138.4L155.0 140.0M157.2 137.2L158.8 137.4L160.6 136.8L161.9 138.3L163.0 138.6M160.3 137.8L159.4 139.6L159.6 141.5M162.8 137.5L164.2 137.5L165.5 138.3L165.9 139.6M114.0 138.2L112.3 138.1L110.7 138.9L109.2 140.0L107.4 139.4M114.7 138.9L113.3 139.9L112.2 140.4L111.7 141.6L110.2 142.1M119.4 139.8L118.2 138.9L117.2 137.3M120.8 140.3L119.2 139.7L117.5 140.4M123.1 138.7L124.5 139.3L125.1 140.8L125.2 142.1M124.9 140.4L125.3 141.8L125.0 143.5L124.3 145.0L123.7 146.1M129.4 140.4L129.4 138.4L129.3 136.7L128.1 135.8L126.5 136.4M131.0 138.2L132.1 139.3L131.5 141.0L131.6 142.6M132.9 139.5L131.0 139.4L130.1 140.7M138.5 139.3L137.9 137.9L137.9 136.1L137.1 134.5L135.8 134.4M140.1 138.1L140.4 139.3L141.8 139.9L142.5 141.1M142.9 138.4L144.2 137.1L145.1 135.6L146.7 135.2L147.8 134.3M147.6 140.1L147.1 141.5L145.6 142.4L144.0 142.1M153.8 139.8L155.3 140.3L157.0 140.9M157.2 139.1L155.7 139.7L153.9 139.0L153.6 137.4M160.9 138.7L161.3 137.5L162.6 137.0L163.1 135.5L162.9 133.9M162.1 139.1L160.7 137.8L161.2 136.1L161.2 134.3M119.4 142.7L118.4 143.9L116.7 143.4L115.8 142.5M119.8 142.8L121.1 143.0L122.9 143.0L124.8 143.0M126.9 141.6L128.7 141.1L129.9 141.8L130.9 143.5M128.4 142.6L127.8 144.1L129.2 145.5L129.7 146.8M132.1 142.9L133.3 142.2L133.5 140.6L133.5 139.2M136.7 142.5L135.0 143.2L133.7 142.2L132.3 142.8L131.5 143.8M138.2 141.7L138.4 143.3L139.2 144.7L140.5 145.1L141.3 146.2M154.1 141.6L154.0 140.3L152.8 139.9L151.2 139.8L150.5 138.0M155.8 142.5L156.5 144.0L157.5 145.5M159.8 141.6L159.5 140.2L159.1 138.8L158.6 136.9M164.2 141.6L164.5 143.3L164.4 145.2L165.0 146.6L164.6 147.8M115.9 144.7L114.8 145.5L114.0 146.7M118.9 144.0L120.4 143.2L120.3 141.9M120.5 143.6L120.9 142.0L120.1 140.7M124.4 145.2L125.1 146.5L126.8 146.3L127.9 147.3M128.7 145.0L128.9 146.6L128.3 147.7L126.7 148.8L125.6 149.8M133.7 144.3L133.0 142.7L133.1 141.2L133.0 139.5M136.2 145.0L135.2 144.0L133.9 144.2M138.8 144.7L137.1 144.8L135.3 145.5L133.9 146.2L132.6 147.1M143.6 145.4L142.5 144.8L141.1 144.9M146.4 145.3L144.7 146.1L143.0 146.6L141.9 145.8L140.3 145.2M149.4 145.5L148.7 143.9L146.9 143.2L145.7 142.5M151.0 143.7L149.6 143.6L148.5 144.4L147.4 145.5L147.3 147.4M152.7 144.1L151.1 143.7L149.7 145.0M154.9 144.2L153.3 145.4L151.7 144.8L150.6 144.2L150.4 142.3M159.8 144.8L158.2 143.9L157.0 142.6L155.2 141.9M128.7 146.1L127.6 144.6L126.2 144.8M130.2 147.0L131.6 146.7L132.6 147.4L133.7 146.8M132.6 146.9L130.8 147.4L130.2 148.9L130.0 150.3L129.1 151.9M136.6 146.9L135.2 147.6L133.9 148.3L134.1 149.7M140.4 147.5L140.9 146.3L141.9 145.4L142.5 144.0M148.0 147.1L148.3 148.4L150.0 149.5L150.8 150.7L151.6 151.9M150.9 145.6L150.3 147.1L150.0 148.4M136.9 149.2L136.9 150.8L137.0 152.1M143.0 149.1L142.9 150.6L141.7 151.9" stroke="#6a7373" stroke-width="0.7" fill="none" stroke-linejoin="round"/>
<path d="M163.8 115.7L162.7 117.3L161.5 118.4M152.9 120.0L152.6 118.6L151.6 117.7L150.4 117.0L148.8 116.1M156.9 120.9L158.2 120.1L159.0 118.9L160.7 118.9L162.3 119.7M157.4 121.1L158.8 122.0L160.1 122.1M153.9 123.9L154.8 124.8L154.4 126.2L153.9 127.6L152.0 128.2M156.3 124.0L156.1 125.6L155.4 127.5L156.7 128.7L158.4 128.1M124.5 126.1L123.8 127.2L122.3 128.3L121.8 130.0M129.7 126.4L130.9 125.4L131.0 123.9L130.6 122.4L129.1 122.1M141.8 126.1L141.4 127.9L140.1 129.1M142.2 125.8L142.5 127.0L142.5 128.5L141.4 129.4M147.7 127.2L147.9 128.7L148.2 130.3M152.8 127.7L151.0 128.1L149.3 128.9L147.7 130.0L146.5 130.4M157.9 126.4L159.4 126.7L160.4 125.9L161.0 124.2M125.4 129.7L126.6 129.1L127.9 129.8L129.2 130.3M138.7 129.7L138.8 130.9L140.4 132.0L141.2 132.9L141.9 134.6M146.7 130.1L145.5 128.5L145.6 127.1L145.8 125.8L146.8 125.1M151.1 128.5L149.9 127.3L149.0 126.5M161.7 129.7L163.0 129.6L164.4 128.5M125.0 131.0L123.6 132.3L122.1 133.2M135.7 131.9L134.3 133.1L134.7 134.9L133.8 136.6L132.2 137.7M137.6 131.5L138.3 130.5L137.6 129.4L136.2 128.3M141.8 131.4L143.0 132.0L144.4 133.4M144.3 132.9L145.2 134.3L145.7 135.4M151.4 132.8L151.6 131.1L152.6 130.2L153.9 130.1M156.2 130.9L157.4 130.2L158.8 129.3M115.6 134.4L114.6 135.2L113.2 136.1L111.6 136.5L110.2 137.3M122.3 134.5L121.1 134.1L120.7 133.0L121.2 131.2M136.5 135.0L137.9 134.8L139.2 133.7L140.1 132.8M138.4 135.1L136.7 134.2L135.4 134.4M141.5 134.7L142.0 133.0L141.8 131.5L141.1 129.7M153.9 134.8L154.9 135.5L156.6 135.6M154.9 135.2L155.0 133.3L155.5 131.6L157.3 131.0L158.9 131.3M133.7 136.8L133.7 138.6L135.2 139.4M139.2 137.0L137.4 136.3L137.2 135.0L136.0 133.9M140.1 137.7L140.9 136.0L142.3 135.7L143.5 135.4M149.4 135.8L147.9 135.6L146.7 137.1L145.1 137.7L143.5 138.2M153.4 135.6L154.9 136.3L156.6 135.6M135.2 140.0L134.3 141.1L132.7 141.2L131.8 143.0L131.9 144.9M146.5 139.7L147.6 141.1L148.1 142.6L148.8 143.9M150.5 138.5L148.8 138.9L148.2 140.1L147.6 141.7L148.2 143.0M154.5 139.1L155.0 140.6L154.1 141.8M114.1 142.4L113.8 141.2L112.0 140.7M116.3 141.2L117.6 139.9L119.2 139.4L120.3 139.9L122.1 139.8M124.1 142.5L123.0 140.9L121.4 141.1L120.0 141.4L119.0 142.8M131.9 141.5L132.2 140.1L132.1 138.2L131.1 137.5L129.6 138.0M139.6 142.0L141.1 141.4L142.5 141.5M142.3 142.4L140.9 141.6L139.6 140.7M144.6 141.4L145.8 142.8L147.2 143.4L148.5 143.3L149.1 144.5M149.3 142.7L151.2 143.1L152.7 143.7M150.7 141.2L151.0 142.7L152.2 143.8M159.1 142.4L160.2 143.0L161.0 144.3M111.9 145.2L112.8 146.1L113.5 147.9M113.4 144.5L113.3 146.4L113.3 147.7L111.8 148.8M126.1 145.0L125.5 146.6L124.8 147.7L124.4 149.4L124.7 150.7M131.9 144.0L133.1 142.4L132.2 141.0M140.0 144.1L140.1 145.4L141.4 146.4L142.6 146.6L143.9 147.0M163.7 144.6L162.3 144.7L161.3 145.4L161.5 146.7L161.7 148.1M115.4 146.0L116.8 146.0L117.8 147.2L119.7 147.1L120.9 147.8M122.2 147.3L121.1 147.8L120.7 149.1L119.0 150.1L118.9 151.6M124.7 147.8L123.5 149.1L124.0 150.7M138.4 146.5L138.3 148.1L139.8 149.2L141.1 149.5M143.4 148.0L145.2 148.2L146.4 148.0L148.1 148.2M145.0 148.0L146.2 147.6L147.5 147.9M133.4 148.0L132.2 147.8L130.9 149.3L129.2 148.9" stroke="#363c3c" stroke-width="0.7" fill="none" stroke-linejoin="round"/>
<path d="M158.1 113.5a0.58 0.58 0 1 0 1.16 0a0.58 0.58 0 1 0 -1.16 0M160.4 114.4a0.58 0.58 0 1 0 1.16 0a0.58 0.58 0 1 0 -1.16 0M161.6 113.3a0.58 0.58 0 1 0 1.16 0a0.58 0.58 0 1 0 -1.16 0M154.5 116.2a0.58 0.58 0 1 0 1.16 0a0.58 0.58 0 1 0 -1.16 0M157.0 117.5a0.58 0.58 0 1 0 1.16 0a0.58 0.58 0 1 0 -1.16 0M161.0 116.2a0.58 0.58 0 1 0 1.16 0a0.58 0.58 0 1 0 -1.16 0M163.2 115.7a0.58 0.58 0 1 0 1.16 0a0.58 0.58 0 1 0 -1.16 0M152.3 120.0a0.58 0.58 0 1 0 1.16 0a0.58 0.58 0 1 0 -1.16 0M154.3 119.7a0.58 0.58 0 1 0 1.16 0a0.58 0.58 0 1 0 -1.16 0M156.7 119.9a0.58 0.58 0 1 0 1.16 0a0.58 0.58 0 1 0 -1.16 0M160.6 119.4a0.58 0.58 0 1 0 1.16 0a0.58 0.58 0 1 0 -1.16 0M163.2 118.6a0.58 0.58 0 1 0 1.16 0a0.58 0.58 0 1 0 -1.16 0M126.3 122.9a0.58 0.58 0 1 0 1.16 0a0.58 0.58 0 1 0 -1.16 0M149.1 123.0a0.58 0.58 0 1 0 1.16 0a0.58 0.58 0 1 0 -1.16 0M152.6 122.0a0.58 0.58 0 1 0 1.16 0a0.58 0.58 0 1 0 -1.16 0M156.3 120.9a0.58 0.58 0 1 0 1.16 0a0.58 0.58 0 1 0 -1.16 0M156.8 121.1a0.58 0.58 0 1 0 1.16 0a0.58 0.58 0 1 0 -1.16 0M160.5 122.0a0.58 0.58 0 1 0 1.16 0a0.58 0.58 0 1 0 -1.16 0M162.7 122.0a0.58 0.58 0 1 0 1.16 0a0.58 0.58 0 1 0 -1.16 0M121.8 123.6a0.58 0.58 0 1 0 1.16 0a0.58 0.58 0 1 0 -1.16 0M125.0 123.8a0.58 0.58 0 1 0 1.16 0a0.58 0.58 0 1 0 -1.16 0M128.3 123.1a0.58 0.58 0 1 0 1.16 0a0.58 0.58 0 1 0 -1.16 0M130.8 124.3a0.58 0.58 0 1 0 1.16 0a0.58 0.58 0 1 0 -1.16 0M133.5 123.5a0.58 0.58 0 1 0 1.16 0a0.58 0.58 0 1 0 -1.16 0M135.5 125.3a0.58 0.58 0 1 0 1.16 0a0.58 0.58 0 1 0 -1.16 0M137.4 125.4a0.58 0.58 0 1 0 1.16 0a0.58 0.58 0 1 0 -1.16 0M142.8 125.0a0.58 0.58 0 1 0 1.16 0a0.58 0.58 0 1 0 -1.16 0M146.2 124.2a0.58 0.58 0 1 0 1.16 0a0.58 0.58 0 1 0 -1.16 0M148.2 124.1a0.58 0.58 0 1 0 1.16 0a0.58 0.58 0 1 0 -1.16 0M151.2 124.9a0.58 0.58 0 1 0 1.16 0a0.58 0.58 0 1 0 -1.16 0M153.3 123.9a0.58 0.58 0 1 0 1.16 0a0.58 0.58 0 1 0 -1.16 0M155.7 124.0a0.58 0.58 0 1 0 1.16 0a0.58 0.58 0 1 0 -1.16 0M157.9 124.0a0.58 0.58 0 1 0 1.16 0a0.58 0.58 0 1 0 -1.16 0M160.5 125.3a0.58 0.58 0 1 0 1.16 0a0.58 0.58 0 1 0 -1.16 0M161.5 123.0a0.58 0.58 0 1 0 1.16 0a0.58 0.58 0 1 0 -1.16 0M119.9 125.6a0.58 0.58 0 1 0 1.16 0a0.58 0.58 0 1 0 -1.16 0M123.9 126.1a0.58 0.58 0 1 0 1.16 0a0.58 0.58 0 1 0 -1.16 0M124.2 126.9a0.58 0.58 0 1 0 1.16 0a0.58 0.58 0 1 0 -1.16 0M127.9 127.6a0.58 0.58 0 1 0 1.16 0a0.58 0.58 0 1 0 -1.16 0M129.1 126.4a0.58 0.58 0 1 0 1.16 0a0.58 0.58 0 1 0 -1.16 0M133.4 127.7a0.58 0.58 0 1 0 1.16 0a0.58 0.58 0 1 0 -1.16 0M134.9 125.8a0.58 0.58 0 1 0 1.16 0a0.58 0.58 0 1 0 -1.16 0M137.2 125.7a0.58 0.58 0 1 0 1.16 0a0.58 0.58 0 1 0 -1.16 0M141.2 126.1a0.58 0.58 0 1 0 1.16 0a0.58 0.58 0 1 0 -1.16 0M141.6 125.8a0.58 0.58 0 1 0 1.16 0a0.58 0.58 0 1 0 -1.16 0M145.0 126.4a0.58 0.58 0 1 0 1.16 0a0.58 0.58 0 1 0 -1.16 0M147.1 127.2a0.58 0.58 0 1 0 1.16 0a0.58 0.58 0 1 0 -1.16 0M150.7 126.5a0.58 0.58 0 1 0 1.16 0a0.58 0.58 0 1 0 -1.16 0M152.2 127.7a0.58 0.58 0 1 0 1.16 0a0.58 0.58 0 1 0 -1.16 0M154.0 126.3a0.58 0.58 0 1 0 1.16 0a0.58 0.58 0 1 0 -1.16 0M157.3 126.4a0.58 0.58 0 1 0 1.16 0a0.58 0.58 0 1 0 -1.16 0M159.5 126.8a0.58 0.58 0 1 0 1.16 0a0.58 0.58 0 1 0 -1.16 0M163.3 127.6a0.58 0.58 0 1 0 1.16 0a0.58 0.58 0 1 0 -1.16 0M120.1 128.5a0.58 0.58 0 1 0 1.16 0a0.58 0.58 0 1 0 -1.16 0M123.5 130.2a0.58 0.58 0 1 0 1.16 0a0.58 0.58 0 1 0 -1.16 0M124.9 129.7a0.58 0.58 0 1 0 1.16 0a0.58 0.58 0 1 0 -1.16 0M126.7 130.3a0.58 0.58 0 1 0 1.16 0a0.58 0.58 0 1 0 -1.16 0M130.8 129.4a0.58 0.58 0 1 0 1.16 0a0.58 0.58 0 1 0 -1.16 0M131.8 128.4a0.58 0.58 0 1 0 1.16 0a0.58 0.58 0 1 0 -1.16 0M134.7 129.9a0.58 0.58 0 1 0 1.16 0a0.58 0.58 0 1 0 -1.16 0M138.2 129.7a0.58 0.58 0 1 0 1.16 0a0.58 0.58 0 1 0 -1.16 0M140.7 129.6a0.58 0.58 0 1 0 1.16 0a0.58 0.58 0 1 0 -1.16 0M142.6 129.6a0.58 0.58 0 1 0 1.16 0a0.58 0.58 0 1 0 -1.16 0M146.1 130.1a0.58 0.58 0 1 0 1.16 0a0.58 0.58 0 1 0 -1.16 0M147.3 129.4a0.58 0.58 0 1 0 1.16 0a0.58 0.58 0 1 0 -1.16 0M150.5 128.5a0.58 0.58 0 1 0 1.16 0a0.58 0.58 0 1 0 -1.16 0M153.3 129.4a0.58 0.58 0 1 0 1.16 0a0.58 0.58 0 1 0 -1.16 0M155.5 128.7a0.58 0.58 0 1 0 1.16 0a0.58 0.58 0 1 0 -1.16 0M156.9 129.3a0.58 0.58 0 1 0 1.16 0a0.58 0.58 0 1 0 -1.16 0M161.1 129.7a0.58 0.58 0 1 0 1.16 0a0.58 0.58 0 1 0 -1.16 0M162.2 128.1a0.58 0.58 0 1 0 1.16 0a0.58 0.58 0 1 0 -1.16 0M115.9 132.7a0.58 0.58 0 1 0 1.16 0a0.58 0.58 0 1 0 -1.16 0M117.3 130.8a0.58 0.58 0 1 0 1.16 0a0.58 0.58 0 1 0 -1.16 0M119.6 133.0a0.58 0.58 0 1 0 1.16 0a0.58 0.58 0 1 0 -1.16 0M123.1 132.1a0.58 0.58 0 1 0 1.16 0a0.58 0.58 0 1 0 -1.16 0M124.4 131.0a0.58 0.58 0 1 0 1.16 0a0.58 0.58 0 1 0 -1.16 0M127.8 132.1a0.58 0.58 0 1 0 1.16 0a0.58 0.58 0 1 0 -1.16 0M130.5 131.2a0.58 0.58 0 1 0 1.16 0a0.58 0.58 0 1 0 -1.16 0M133.8 132.7a0.58 0.58 0 1 0 1.16 0a0.58 0.58 0 1 0 -1.16 0M135.1 131.9a0.58 0.58 0 1 0 1.16 0a0.58 0.58 0 1 0 -1.16 0M137.0 131.5a0.58 0.58 0 1 0 1.16 0a0.58 0.58 0 1 0 -1.16 0M141.2 131.4a0.58 0.58 0 1 0 1.16 0a0.58 0.58 0 1 0 -1.16 0M143.7 132.9a0.58 0.58 0 1 0 1.16 0a0.58 0.58 0 1 0 -1.16 0M145.9 132.2a0.58 0.58 0 1 0 1.16 0a0.58 0.58 0 1 0 -1.16 0M147.2 131.9a0.58 0.58 0 1 0 1.16 0a0.58 0.58 0 1 0 -1.16 0M150.8 132.8a0.58 0.58 0 1 0 1.16 0a0.58 0.58 0 1 0 -1.16 0M153.0 132.4a0.58 0.58 0 1 0 1.16 0a0.58 0.58 0 1 0 -1.16 0M155.6 130.9a0.58 0.58 0 1 0 1.16 0a0.58 0.58 0 1 0 -1.16 0M158.5 131.2a0.58 0.58 0 1 0 1.16 0a0.58 0.58 0 1 0 -1.16 0M159.0 132.5a0.58 0.58 0 1 0 1.16 0a0.58 0.58 0 1 0 -1.16 0M162.2 130.9a0.58 0.58 0 1 0 1.16 0a0.58 0.58 0 1 0 -1.16 0M115.1 134.4a0.58 0.58 0 1 0 1.16 0a0.58 0.58 0 1 0 -1.16 0M116.5 133.5a0.58 0.58 0 1 0 1.16 0a0.58 0.58 0 1 0 -1.16 0M120.9 134.8a0.58 0.58 0 1 0 1.16 0a0.58 0.58 0 1 0 -1.16 0M121.8 134.5a0.58 0.58 0 1 0 1.16 0a0.58 0.58 0 1 0 -1.16 0M124.7 135.1a0.58 0.58 0 1 0 1.16 0a0.58 0.58 0 1 0 -1.16 0M126.5 133.8a0.58 0.58 0 1 0 1.16 0a0.58 0.58 0 1 0 -1.16 0M129.0 133.9a0.58 0.58 0 1 0 1.16 0a0.58 0.58 0 1 0 -1.16 0M131.8 134.6a0.58 0.58 0 1 0 1.16 0a0.58 0.58 0 1 0 -1.16 0M135.9 135.0a0.58 0.58 0 1 0 1.16 0a0.58 0.58 0 1 0 -1.16 0M137.9 135.1a0.58 0.58 0 1 0 1.16 0a0.58 0.58 0 1 0 -1.16 0M141.0 134.7a0.58 0.58 0 1 0 1.16 0a0.58 0.58 0 1 0 -1.16 0M143.3 134.0a0.58 0.58 0 1 0 1.16 0a0.58 0.58 0 1 0 -1.16 0M145.5 134.8a0.58 0.58 0 1 0 1.16 0a0.58 0.58 0 1 0 -1.16 0M148.2 134.8a0.58 0.58 0 1 0 1.16 0a0.58 0.58 0 1 0 -1.16 0M149.1 133.0a0.58 0.58 0 1 0 1.16 0a0.58 0.58 0 1 0 -1.16 0M153.3 134.8a0.58 0.58 0 1 0 1.16 0a0.58 0.58 0 1 0 -1.16 0M154.3 135.2a0.58 0.58 0 1 0 1.16 0a0.58 0.58 0 1 0 -1.16 0M157.3 134.4a0.58 0.58 0 1 0 1.16 0a0.58 0.58 0 1 0 -1.16 0M160.6 134.2a0.58 0.58 0 1 0 1.16 0a0.58 0.58 0 1 0 -1.16 0M161.5 133.5a0.58 0.58 0 1 0 1.16 0a0.58 0.58 0 1 0 -1.16 0M116.1 137.4a0.58 0.58 0 1 0 1.16 0a0.58 0.58 0 1 0 -1.16 0M117.4 137.7a0.58 0.58 0 1 0 1.16 0a0.58 0.58 0 1 0 -1.16 0M120.3 136.9a0.58 0.58 0 1 0 1.16 0a0.58 0.58 0 1 0 -1.16 0M123.3 137.3a0.58 0.58 0 1 0 1.16 0a0.58 0.58 0 1 0 -1.16 0M124.9 136.7a0.58 0.58 0 1 0 1.16 0a0.58 0.58 0 1 0 -1.16 0M126.7 136.0a0.58 0.58 0 1 0 1.16 0a0.58 0.58 0 1 0 -1.16 0M130.8 135.9a0.58 0.58 0 1 0 1.16 0a0.58 0.58 0 1 0 -1.16 0M133.1 136.8a0.58 0.58 0 1 0 1.16 0a0.58 0.58 0 1 0 -1.16 0M134.7 137.7a0.58 0.58 0 1 0 1.16 0a0.58 0.58 0 1 0 -1.16 0M138.6 137.0a0.58 0.58 0 1 0 1.16 0a0.58 0.58 0 1 0 -1.16 0M139.5 137.7a0.58 0.58 0 1 0 1.16 0a0.58 0.58 0 1 0 -1.16 0M143.4 137.4a0.58 0.58 0 1 0 1.16 0a0.58 0.58 0 1 0 -1.16 0M145.5 136.7a0.58 0.58 0 1 0 1.16 0a0.58 0.58 0 1 0 -1.16 0M148.8 135.8a0.58 0.58 0 1 0 1.16 0a0.58 0.58 0 1 0 -1.16 0M149.4 137.2a0.58 0.58 0 1 0 1.16 0a0.58 0.58 0 1 0 -1.16 0M152.8 135.6a0.58 0.58 0 1 0 1.16 0a0.58 0.58 0 1 0 -1.16 0M154.7 136.9a0.58 0.58 0 1 0 1.16 0a0.58 0.58 0 1 0 -1.16 0M156.6 137.2a0.58 0.58 0 1 0 1.16 0a0.58 0.58 0 1 0 -1.16 0M159.8 137.8a0.58 0.58 0 1 0 1.16 0a0.58 0.58 0 1 0 -1.16 0M162.2 137.5a0.58 0.58 0 1 0 1.16 0a0.58 0.58 0 1 0 -1.16 0M113.4 138.2a0.58 0.58 0 1 0 1.16 0a0.58 0.58 0 1 0 -1.16 0M114.2 138.9a0.58 0.58 0 1 0 1.16 0a0.58 0.58 0 1 0 -1.16 0M118.8 139.8a0.58 0.58 0 1 0 1.16 0a0.58 0.58 0 1 0 -1.16 0M120.2 140.3a0.58 0.58 0 1 0 1.16 0a0.58 0.58 0 1 0 -1.16 0M122.5 138.7a0.58 0.58 0 1 0 1.16 0a0.58 0.58 0 1 0 -1.16 0M124.3 140.4a0.58 0.58 0 1 0 1.16 0a0.58 0.58 0 1 0 -1.16 0M128.8 140.4a0.58 0.58 0 1 0 1.16 0a0.58 0.58 0 1 0 -1.16 0M130.4 138.2a0.58 0.58 0 1 0 1.16 0a0.58 0.58 0 1 0 -1.16 0M132.3 139.5a0.58 0.58 0 1 0 1.16 0a0.58 0.58 0 1 0 -1.16 0M134.6 140.0a0.58 0.58 0 1 0 1.16 0a0.58 0.58 0 1 0 -1.16 0M138.0 139.3a0.58 0.58 0 1 0 1.16 0a0.58 0.58 0 1 0 -1.16 0M139.6 138.1a0.58 0.58 0 1 0 1.16 0a0.58 0.58 0 1 0 -1.16 0M142.3 138.4a0.58 0.58 0 1 0 1.16 0a0.58 0.58 0 1 0 -1.16 0M145.9 139.7a0.58 0.58 0 1 0 1.16 0a0.58 0.58 0 1 0 -1.16 0M147.0 140.1a0.58 0.58 0 1 0 1.16 0a0.58 0.58 0 1 0 -1.16 0M149.9 138.5a0.58 0.58 0 1 0 1.16 0a0.58 0.58 0 1 0 -1.16 0M153.3 139.8a0.58 0.58 0 1 0 1.16 0a0.58 0.58 0 1 0 -1.16 0M154.0 139.1a0.58 0.58 0 1 0 1.16 0a0.58 0.58 0 1 0 -1.16 0M156.6 139.1a0.58 0.58 0 1 0 1.16 0a0.58 0.58 0 1 0 -1.16 0M160.3 138.7a0.58 0.58 0 1 0 1.16 0a0.58 0.58 0 1 0 -1.16 0M161.5 139.1a0.58 0.58 0 1 0 1.16 0a0.58 0.58 0 1 0 -1.16 0M113.5 142.4a0.58 0.58 0 1 0 1.16 0a0.58 0.58 0 1 0 -1.16 0M115.7 141.2a0.58 0.58 0 1 0 1.16 0a0.58 0.58 0 1 0 -1.16 0M118.8 142.7a0.58 0.58 0 1 0 1.16 0a0.58 0.58 0 1 0 -1.16 0M119.2 142.8a0.58 0.58 0 1 0 1.16 0a0.58 0.58 0 1 0 -1.16 0M123.5 142.5a0.58 0.58 0 1 0 1.16 0a0.58 0.58 0 1 0 -1.16 0M126.3 141.6a0.58 0.58 0 1 0 1.16 0a0.58 0.58 0 1 0 -1.16 0M127.8 142.6a0.58 0.58 0 1 0 1.16 0a0.58 0.58 0 1 0 -1.16 0M131.3 141.5a0.58 0.58 0 1 0 1.16 0a0.58 0.58 0 1 0 -1.16 0M131.5 142.9a0.58 0.58 0 1 0 1.16 0a0.58 0.58 0 1 0 -1.16 0M136.1 142.5a0.58 0.58 0 1 0 1.16 0a0.58 0.58 0 1 0 -1.16 0M137.6 141.7a0.58 0.58 0 1 0 1.16 0a0.58 0.58 0 1 0 -1.16 0M139.0 142.0a0.58 0.58 0 1 0 1.16 0a0.58 0.58 0 1 0 -1.16 0M141.8 142.4a0.58 0.58 0 1 0 1.16 0a0.58 0.58 0 1 0 -1.16 0M144.0 141.4a0.58 0.58 0 1 0 1.16 0a0.58 0.58 0 1 0 -1.16 0M148.7 142.7a0.58 0.58 0 1 0 1.16 0a0.58 0.58 0 1 0 -1.16 0M150.1 141.2a0.58 0.58 0 1 0 1.16 0a0.58 0.58 0 1 0 -1.16 0M153.5 141.6a0.58 0.58 0 1 0 1.16 0a0.58 0.58 0 1 0 -1.16 0M155.2 142.5a0.58 0.58 0 1 0 1.16 0a0.58 0.58 0 1 0 -1.16 0M158.5 142.4a0.58 0.58 0 1 0 1.16 0a0.58 0.58 0 1 0 -1.16 0M159.3 141.6a0.58 0.58 0 1 0 1.16 0a0.58 0.58 0 1 0 -1.16 0M163.6 141.6a0.58 0.58 0 1 0 1.16 0a0.58 0.58 0 1 0 -1.16 0M111.3 145.2a0.58 0.58 0 1 0 1.16 0a0.58 0.58 0 1 0 -1.16 0M112.8 144.5a0.58 0.58 0 1 0 1.16 0a0.58 0.58 0 1 0 -1.16 0M115.3 144.7a0.58 0.58 0 1 0 1.16 0a0.58 0.58 0 1 0 -1.16 0M118.3 144.0a0.58 0.58 0 1 0 1.16 0a0.58 0.58 0 1 0 -1.16 0M119.9 143.6a0.58 0.58 0 1 0 1.16 0a0.58 0.58 0 1 0 -1.16 0M123.8 145.2a0.58 0.58 0 1 0 1.16 0a0.58 0.58 0 1 0 -1.16 0M125.5 145.0a0.58 0.58 0 1 0 1.16 0a0.58 0.58 0 1 0 -1.16 0M128.1 145.0a0.58 0.58 0 1 0 1.16 0a0.58 0.58 0 1 0 -1.16 0M131.4 144.0a0.58 0.58 0 1 0 1.16 0a0.58 0.58 0 1 0 -1.16 0M133.2 144.3a0.58 0.58 0 1 0 1.16 0a0.58 0.58 0 1 0 -1.16 0M135.6 145.0a0.58 0.58 0 1 0 1.16 0a0.58 0.58 0 1 0 -1.16 0M138.2 144.7a0.58 0.58 0 1 0 1.16 0a0.58 0.58 0 1 0 -1.16 0M139.4 144.1a0.58 0.58 0 1 0 1.16 0a0.58 0.58 0 1 0 -1.16 0M143.0 145.4a0.58 0.58 0 1 0 1.16 0a0.58 0.58 0 1 0 -1.16 0M145.8 145.3a0.58 0.58 0 1 0 1.16 0a0.58 0.58 0 1 0 -1.16 0M148.8 145.5a0.58 0.58 0 1 0 1.16 0a0.58 0.58 0 1 0 -1.16 0M150.4 143.7a0.58 0.58 0 1 0 1.16 0a0.58 0.58 0 1 0 -1.16 0M152.1 144.1a0.58 0.58 0 1 0 1.16 0a0.58 0.58 0 1 0 -1.16 0M154.4 144.2a0.58 0.58 0 1 0 1.16 0a0.58 0.58 0 1 0 -1.16 0M159.2 144.8a0.58 0.58 0 1 0 1.16 0a0.58 0.58 0 1 0 -1.16 0M163.1 144.6a0.58 0.58 0 1 0 1.16 0a0.58 0.58 0 1 0 -1.16 0M114.8 146.0a0.58 0.58 0 1 0 1.16 0a0.58 0.58 0 1 0 -1.16 0M121.7 147.3a0.58 0.58 0 1 0 1.16 0a0.58 0.58 0 1 0 -1.16 0M124.1 147.8a0.58 0.58 0 1 0 1.16 0a0.58 0.58 0 1 0 -1.16 0M128.1 146.1a0.58 0.58 0 1 0 1.16 0a0.58 0.58 0 1 0 -1.16 0M129.6 147.0a0.58 0.58 0 1 0 1.16 0a0.58 0.58 0 1 0 -1.16 0M132.0 146.9a0.58 0.58 0 1 0 1.16 0a0.58 0.58 0 1 0 -1.16 0M136.0 146.9a0.58 0.58 0 1 0 1.16 0a0.58 0.58 0 1 0 -1.16 0M137.8 146.5a0.58 0.58 0 1 0 1.16 0a0.58 0.58 0 1 0 -1.16 0M139.8 147.5a0.58 0.58 0 1 0 1.16 0a0.58 0.58 0 1 0 -1.16 0M142.8 148.0a0.58 0.58 0 1 0 1.16 0a0.58 0.58 0 1 0 -1.16 0M144.5 148.0a0.58 0.58 0 1 0 1.16 0a0.58 0.58 0 1 0 -1.16 0M147.4 147.1a0.58 0.58 0 1 0 1.16 0a0.58 0.58 0 1 0 -1.16 0M150.3 145.6a0.58 0.58 0 1 0 1.16 0a0.58 0.58 0 1 0 -1.16 0M132.8 148.0a0.58 0.58 0 1 0 1.16 0a0.58 0.58 0 1 0 -1.16 0M136.3 149.2a0.58 0.58 0 1 0 1.16 0a0.58 0.58 0 1 0 -1.16 0M142.4 149.1a0.58 0.58 0 1 0 1.16 0a0.58 0.58 0 1 0 -1.16 0" fill="#e01414"/>
<path d="M160.9 126.8l0.8 -0.9M125.4 130.5l-0.8 -0.9M126.8 130.8l-0.2 -1.2M128.4 129.8l0.8 0.9M135.0 130.9l0.1 1.2M136.4 131.8l1.0 -0.6M137.3 132.1l-0.7 0.9M146.7 125.3l-1.0 -0.7M149.7 130.5l-1.2 -0.0M148.8 131.9l-1.2 -0.3M147.5 131.7l-0.0 -1.2M151.3 131.1l1.0 0.7M149.8 131.7l-0.5 -1.1M158.0 128.5l1.0 0.6M159.3 128.8l0.2 -1.2M125.9 133.5l-1.0 -0.6M125.0 134.6l-0.5 -1.1M127.6 129.4l0.8 0.8M134.4 133.7l-0.8 0.9M133.8 134.8l1.0 0.7M133.6 136.4l-1.1 -0.4M138.0 133.3l0.6 -1.0M140.2 134.2l1.0 0.7M142.0 134.3l-0.1 -1.2M143.5 134.8l-0.6 1.0M146.7 131.7l-0.4 -1.1M149.4 131.8l0.0 -1.2M149.7 133.0l1.2 -0.2M154.9 135.5l-0.6 1.0M157.6 136.7l0.4 1.1M159.1 137.1l-0.0 -1.2M157.2 137.1l1.2 0.1M127.1 139.8l1.0 0.6M126.2 141.6l1.2 0.3M132.4 139.1l-1.0 0.7M133.7 136.8l-0.1 -1.2M137.5 135.9l-1.0 -0.7M138.1 134.6l-1.2 -0.1M141.2 133.1l0.5 1.1M140.6 137.7l1.0 -0.6M142.2 139.8l0.7 -0.9M145.0 137.9l-0.9 -0.8M143.8 138.4l-0.1 1.2M142.1 139.3l0.9 0.8M148.3 137.1l0.9 0.8M147.1 135.9l-0.6 1.0M146.0 134.6l0.4 -1.1M153.4 134.6l1.0 0.7M155.2 134.0l0.8 0.9M151.5 138.0l0.8 0.9M159.2 134.3l0.7 1.0M161.1 133.8l-0.5 -1.1M161.6 132.6l-1.2 -0.0M121.6 139.8l0.9 0.8M120.5 138.7l-1.0 0.6M123.3 141.1l0.6 -1.0M131.3 143.3l1.2 -0.0M132.0 144.4l1.1 -0.6M135.7 144.6l0.4 -1.1M140.0 142.7l-0.2 1.2M141.4 142.5l-0.2 -1.2M142.8 138.7l0.8 0.8M144.6 139.2l-0.1 -1.2M145.0 140.8l1.1 0.4M144.7 144.5l-1.0 0.6M145.8 145.1l0.8 -0.9M147.9 140.8l-0.4 -1.1M146.7 140.0l0.6 -1.0M154.4 141.1l-0.5 -1.1M157.2 140.2l1.2 0.3M155.4 137.3l1.0 0.7M135.0 145.4l0.3 -1.2M136.5 145.9l0.3 -1.2M138.5 145.8l-0.1 1.2M140.4 143.4l-1.2 -0.1M140.4 141.7l1.0 -0.6M142.1 140.9l-0.6 -1.0M139.2 147.3l0.4 1.1M147.3 145.7l-1.0 -0.7M153.8 141.4l1.2 -0.0M155.1 140.4l-0.7 -1.0M156.8 139.9l0.3 -1.2" stroke="#a8aeae" stroke-width="0.55" fill="none"/>
<path d="M152.3 126.8L153.8 127.7L153.6 129.2M156.4 126.5L157.9 126.1L159.2 126.4L160.9 126.8M132.2 130.6L133.7 131.0L135.0 130.9L136.4 131.8M135.8 129.9L136.7 130.7L137.3 132.1L136.1 133.6M152.1 129.4L151.3 131.1L149.8 131.7L148.3 131.5M154.8 129.2L156.3 129.4L158.0 128.5L159.3 128.8M158.7 129.7L157.2 130.7L157.3 132.0M127.3 132.7L125.9 133.5L125.0 134.6M128.4 133.8L128.1 132.1L127.0 130.5L127.6 129.4L126.8 128.1M136.9 132.3L138.0 133.3L139.3 134.0L140.5 135.6M139.5 135.3L140.2 134.2L142.0 134.3L143.5 134.8M145.5 133.2L146.7 131.7L148.0 131.4L149.4 131.8L149.7 133.0M148.8 135.4L150.5 135.8L151.5 136.5M127.5 138.3L127.1 139.8L126.2 141.6L126.8 143.1M129.3 135.6L130.3 137.1L131.9 137.9L132.4 139.1L132.2 140.4M136.2 137.5L137.5 135.9L138.1 134.6L139.6 133.9L141.2 133.1M140.0 135.8L140.6 137.7L141.0 139.0L142.2 139.8M145.7 137.0L145.0 137.9L143.8 138.4L142.1 139.3M147.7 138.7L148.3 137.1L147.1 135.9L146.0 134.6L144.5 133.6M155.0 136.9L153.7 136.5L152.4 137.0L151.5 138.0L151.5 140.0M158.3 135.5L159.2 134.3L161.1 133.8L161.6 132.6L163.5 132.5M121.0 141.1L121.6 139.8L120.5 138.7M125.8 142.4L124.5 142.4L123.3 141.1M138.6 142.0L140.0 142.7L141.4 142.5M141.7 139.9L142.8 138.7L144.6 139.2L145.0 140.8M144.5 142.6L144.7 144.5L145.8 145.1M149.2 140.1L147.9 140.8L146.7 140.0L145.4 140.1M153.1 141.6L154.4 141.1L155.9 141.6L157.2 140.2M155.5 140.4L155.0 139.0L155.4 137.3L155.4 136.0L155.0 134.3M135.5 145.1L134.2 143.9L134.3 142.3M139.8 145.2L140.4 143.4L140.4 141.7L142.1 140.9M148.3 144.1L147.3 145.7L146.9 147.6M153.6 143.1L153.8 141.4L155.1 140.4L156.8 139.9" stroke="#6a7373" stroke-width="0.7" fill="none" stroke-linejoin="round"/>
<path d="M124.2 131.2L125.4 130.5L126.8 130.8L128.4 129.8M140.6 128.9L140.5 127.7L139.7 126.2M146.4 128.1L145.7 126.3L146.7 125.3M149.9 128.6L149.7 130.5L148.8 131.9L147.5 131.7M133.4 132.4L134.4 133.7L133.8 134.8L133.6 136.4M153.2 135.0L154.9 135.5L156.0 136.3L157.6 136.7L159.1 137.1M157.3 134.6L157.6 135.9L157.2 137.1L157.6 138.8L157.1 140.7M131.5 138.7L132.3 137.1L133.7 136.8M152.5 135.9L153.4 134.6L155.2 134.0L156.7 133.9M129.2 141.7L130.8 142.0L131.3 143.3L132.0 144.4M134.5 141.2L133.8 142.3L134.6 143.9L135.7 144.6M133.1 143.3L133.7 144.7L135.0 145.4L136.5 145.9L138.5 145.8M144.8 144.7L142.9 144.5L141.3 145.2L140.2 146.4L139.2 147.3" stroke="#363c3c" stroke-width="0.7" fill="none" stroke-linejoin="round"/>
<path d="M151.8 126.8a0.58 0.58 0 1 0 1.16 0a0.58 0.58 0 1 0 -1.16 0M155.8 126.5a0.58 0.58 0 1 0 1.16 0a0.58 0.58 0 1 0 -1.16 0M123.6 131.2a0.58 0.58 0 1 0 1.16 0a0.58 0.58 0 1 0 -1.16 0M131.7 130.6a0.58 0.58 0 1 0 1.16 0a0.58 0.58 0 1 0 -1.16 0M135.3 129.9a0.58 0.58 0 1 0 1.16 0a0.58 0.58 0 1 0 -1.16 0M140.0 128.9a0.58 0.58 0 1 0 1.16 0a0.58 0.58 0 1 0 -1.16 0M145.8 128.1a0.58 0.58 0 1 0 1.16 0a0.58 0.58 0 1 0 -1.16 0M149.3 128.6a0.58 0.58 0 1 0 1.16 0a0.58 0.58 0 1 0 -1.16 0M151.6 129.4a0.58 0.58 0 1 0 1.16 0a0.58 0.58 0 1 0 -1.16 0M154.2 129.2a0.58 0.58 0 1 0 1.16 0a0.58 0.58 0 1 0 -1.16 0M158.1 129.7a0.58 0.58 0 1 0 1.16 0a0.58 0.58 0 1 0 -1.16 0M126.8 132.7a0.58 0.58 0 1 0 1.16 0a0.58 0.58 0 1 0 -1.16 0M127.9 133.8a0.58 0.58 0 1 0 1.16 0a0.58 0.58 0 1 0 -1.16 0M132.9 132.4a0.58 0.58 0 1 0 1.16 0a0.58 0.58 0 1 0 -1.16 0M136.3 132.3a0.58 0.58 0 1 0 1.16 0a0.58 0.58 0 1 0 -1.16 0M139.0 135.3a0.58 0.58 0 1 0 1.16 0a0.58 0.58 0 1 0 -1.16 0M144.9 133.2a0.58 0.58 0 1 0 1.16 0a0.58 0.58 0 1 0 -1.16 0M148.2 135.4a0.58 0.58 0 1 0 1.16 0a0.58 0.58 0 1 0 -1.16 0M152.6 135.0a0.58 0.58 0 1 0 1.16 0a0.58 0.58 0 1 0 -1.16 0M156.7 134.6a0.58 0.58 0 1 0 1.16 0a0.58 0.58 0 1 0 -1.16 0M127.0 138.3a0.58 0.58 0 1 0 1.16 0a0.58 0.58 0 1 0 -1.16 0M128.7 135.6a0.58 0.58 0 1 0 1.16 0a0.58 0.58 0 1 0 -1.16 0M130.9 138.7a0.58 0.58 0 1 0 1.16 0a0.58 0.58 0 1 0 -1.16 0M135.7 137.5a0.58 0.58 0 1 0 1.16 0a0.58 0.58 0 1 0 -1.16 0M139.5 135.8a0.58 0.58 0 1 0 1.16 0a0.58 0.58 0 1 0 -1.16 0M145.2 137.0a0.58 0.58 0 1 0 1.16 0a0.58 0.58 0 1 0 -1.16 0M147.1 138.7a0.58 0.58 0 1 0 1.16 0a0.58 0.58 0 1 0 -1.16 0M151.9 135.9a0.58 0.58 0 1 0 1.16 0a0.58 0.58 0 1 0 -1.16 0M154.4 136.9a0.58 0.58 0 1 0 1.16 0a0.58 0.58 0 1 0 -1.16 0M157.7 135.5a0.58 0.58 0 1 0 1.16 0a0.58 0.58 0 1 0 -1.16 0M120.4 141.1a0.58 0.58 0 1 0 1.16 0a0.58 0.58 0 1 0 -1.16 0M125.2 142.4a0.58 0.58 0 1 0 1.16 0a0.58 0.58 0 1 0 -1.16 0M128.6 141.7a0.58 0.58 0 1 0 1.16 0a0.58 0.58 0 1 0 -1.16 0M133.9 141.2a0.58 0.58 0 1 0 1.16 0a0.58 0.58 0 1 0 -1.16 0M138.0 142.0a0.58 0.58 0 1 0 1.16 0a0.58 0.58 0 1 0 -1.16 0M141.2 139.9a0.58 0.58 0 1 0 1.16 0a0.58 0.58 0 1 0 -1.16 0M144.0 142.6a0.58 0.58 0 1 0 1.16 0a0.58 0.58 0 1 0 -1.16 0M148.6 140.1a0.58 0.58 0 1 0 1.16 0a0.58 0.58 0 1 0 -1.16 0M152.5 141.6a0.58 0.58 0 1 0 1.16 0a0.58 0.58 0 1 0 -1.16 0M154.9 140.4a0.58 0.58 0 1 0 1.16 0a0.58 0.58 0 1 0 -1.16 0M132.6 143.3a0.58 0.58 0 1 0 1.16 0a0.58 0.58 0 1 0 -1.16 0M134.9 145.1a0.58 0.58 0 1 0 1.16 0a0.58 0.58 0 1 0 -1.16 0M139.2 145.2a0.58 0.58 0 1 0 1.16 0a0.58 0.58 0 1 0 -1.16 0M144.2 144.7a0.58 0.58 0 1 0 1.16 0a0.58 0.58 0 1 0 -1.16 0M147.7 144.1a0.58 0.58 0 1 0 1.16 0a0.58 0.58 0 1 0 -1.16 0M153.0 143.1a0.58 0.58 0 1 0 1.16 0a0.58 0.58 0 1 0 -1.16 0" fill="#e01414"/>
<path d="M84.4 150.1Q102.80000000000001 150.1 121.2 148.2" stroke="#6a6a6a" stroke-width="1.7" fill="none" opacity="0.5"/>
<path d="M84.4 150.1Q102.80000000000001 150.1 121.2 148.2" stroke="#2a2a2a" stroke-width="1.25" stroke-dasharray="1.0 0.4" fill="none"/>
<path d="M84.4 156.1Q102.80000000000001 156.1 121.2 154.7" stroke="#6a6a6a" stroke-width="1.7" fill="none" opacity="0.5"/>
<path d="M84.4 156.1Q102.80000000000001 156.1 121.2 154.7" stroke="#2a2a2a" stroke-width="1.25" stroke-dasharray="1.0 0.4" fill="none"/>
<path d="M117.2 148.5L121.4 148.2M117.2 155L121.4 154.7" stroke="#1c1c1c" stroke-width="2.1"/>
<path d="M62.1 152.8L67.0 148.70000000000002L67.0 150.60000000000002L80.8 150.60000000000002L80.8 155.0L67.0 155.0L67.0 156.9Z" fill="#2362b5"/>
<rect x="81.0" y="148.70000000000002" width="3.5999999999999943" height="8.3" fill="#1c45d6"/>
<text x="69.30" y="147.80" font-size="8.5" text-anchor="start" fill="#1a2fd0" font-weight="bold" font-style="italic" stroke="none">v</text>
<path d="M174 121.7L177.8 122.6M175.7 120L176.5 124.5L177.6 123.2" stroke="#444" stroke-width="0.7" fill="none"/>
<path d="M101.4 162.1L106.0 164.7L110.6 162.1L110.6 165.6L106.0 168.2L101.4 165.6Z" fill="#9e9e9e"/>
<path d="M101.4 168.6L106.0 170.79999999999998L110.6 168.6L110.6 171.79999999999998L106.0 174.0L101.4 171.79999999999998Z" fill="#9e9e9e"/>
<path d="M44.4 175.5H172.1V236.9" fill="none" stroke="#4a4a4a" stroke-width="1"/>
<path d="M44.4 175.5V236.9H172.1" fill="none" stroke="#2b2b2b" stroke-width="1"/>
<text x="37.40" y="239.10" font-size="6.6" text-anchor="end" fill="#262626"  stroke="#262626" stroke-width="0.15">0</text>
<text x="37.40" y="218.63" font-size="6.6" text-anchor="end" fill="#262626"  stroke="#262626" stroke-width="0.15">-50</text>
<text x="37.40" y="198.17" font-size="6.6" text-anchor="end" fill="#262626"  stroke="#262626" stroke-width="0.15">-100</text>
<text x="37.40" y="177.70" font-size="6.6" text-anchor="end" fill="#262626"  stroke="#262626" stroke-width="0.15">-150</text>
<text x="44.60" y="247.70" font-size="6.8" text-anchor="middle" fill="#262626"  stroke="#262626" stroke-width="0.15">0</text>
<text x="70.14" y="247.70" font-size="6.8" text-anchor="middle" fill="#262626"  stroke="#262626" stroke-width="0.15">20</text>
<text x="95.68" y="247.70" font-size="6.8" text-anchor="middle" fill="#262626"  stroke="#262626" stroke-width="0.15">40</text>
<text x="121.22" y="247.70" font-size="6.8" text-anchor="middle" fill="#262626"  stroke="#262626" stroke-width="0.15">60</text>
<text x="146.76" y="247.70" font-size="6.8" text-anchor="middle" fill="#262626"  stroke="#262626" stroke-width="0.15">80</text>
<text x="172.30" y="247.70" font-size="6.8" text-anchor="middle" fill="#262626"  stroke="#262626" stroke-width="0.15">100</text>
<path d="M42.4 236.90h2M42.4 216.43h2M42.4 195.97h2M42.4 175.50h2M44.40 236.9v-2M69.94 236.9v-2M95.48 236.9v-2M121.02 236.9v-2M146.56 236.9v-2M172.10 236.9v-2" stroke="#2b2b2b" stroke-width="0.9"/>
<polyline points="44.40,182.05 57.17,185.53 69.94,189.62 82.71,193.92 95.48,194.74 108.25,203.54 121.02,203.33 133.79,212.34 146.56,214.80 159.33,221.55" fill="none" stroke="#1f7fc4" stroke-width="1.2" stroke-linejoin="round"/>
<path d="M44.40 180.45l1.6 1.6l-1.6 1.6l-1.6 -1.6Z" fill="#1f7fc4"/>
<path d="M57.17 183.93l1.6 1.6l-1.6 1.6l-1.6 -1.6Z" fill="#1f7fc4"/>
<path d="M69.94 188.02l1.6 1.6l-1.6 1.6l-1.6 -1.6Z" fill="#1f7fc4"/>
<path d="M82.71 192.32l1.6 1.6l-1.6 1.6l-1.6 -1.6Z" fill="#1f7fc4"/>
<path d="M95.48 193.14l1.6 1.6l-1.6 1.6l-1.6 -1.6Z" fill="#1f7fc4"/>
<path d="M108.25 201.94l1.6 1.6l-1.6 1.6l-1.6 -1.6Z" fill="#1f7fc4"/>
<path d="M121.02 201.73l1.6 1.6l-1.6 1.6l-1.6 -1.6Z" fill="#1f7fc4"/>
<path d="M133.79 210.74l1.6 1.6l-1.6 1.6l-1.6 -1.6Z" fill="#1f7fc4"/>
<path d="M146.56 213.20l1.6 1.6l-1.6 1.6l-1.6 -1.6Z" fill="#1f7fc4"/>
<path d="M159.33 219.95l1.6 1.6l-1.6 1.6l-1.6 -1.6Z" fill="#1f7fc4"/>
<path d="M96.2 182.5H105" stroke="#1f7fc4" stroke-width="1.2"/>
<path d="M100.6 180.9l1.6 1.6l-1.6 1.6l-1.6 -1.6Z" fill="#1f7fc4"/>
<text x="105.80" y="184.60" font-size="6.8" text-anchor="start" fill="#262626"  stroke="#262626" stroke-width="0.15">PLA-3</text>
<text x="108.50" y="256.00" font-size="7" text-anchor="middle" fill="#262626"  stroke="#262626" stroke-width="0.15">Time (ps)</text>
<text transform="translate(12.30,208.10) rotate(-90)" font-size="7" text-anchor="middle" fill="#262626" stroke="#262626" stroke-width="0.15">Interface binding energy</text>
<text transform="translate(21.40,208.20) rotate(-90)" font-size="7" text-anchor="middle" fill="#262626" stroke="#262626" stroke-width="0.15">(kcal/mol)</text>
<path d="M231.4 111.6H358.2" fill="none" stroke="#8e8e8e" stroke-width="1"/>
<path d="M231.4 41.6V112.1" fill="none" stroke="#2b2b2b" stroke-width="1"/>
<text x="223.90" y="113.70" font-size="6.7" text-anchor="end" fill="#262626"  stroke="#262626" stroke-width="0.15">-95</text>
<text x="223.90" y="102.03" font-size="6.7" text-anchor="end" fill="#262626"  stroke="#262626" stroke-width="0.15">-100</text>
<text x="223.90" y="90.37" font-size="6.7" text-anchor="end" fill="#262626"  stroke="#262626" stroke-width="0.15">-105</text>
<text x="223.90" y="78.70" font-size="6.7" text-anchor="end" fill="#262626"  stroke="#262626" stroke-width="0.15">-110</text>
<text x="223.90" y="67.03" font-size="6.7" text-anchor="end" fill="#262626"  stroke="#262626" stroke-width="0.15">-115</text>
<text x="223.90" y="55.37" font-size="6.7" text-anchor="end" fill="#262626"  stroke="#262626" stroke-width="0.15">-120</text>
<text x="223.90" y="43.70" font-size="6.7" text-anchor="end" fill="#262626"  stroke="#262626" stroke-width="0.15">-125</text>
<path d="M229.1 111.60h2.3M229.1 99.93h2.3M229.1 88.27h2.3M229.1 76.60h2.3M229.1 64.93h2.3M229.1 53.27h2.3M229.1 41.60h2.3" stroke="#2b2b2b" stroke-width="0.9"/>
<path d="M273.40 111.6v-2.3M315.80 111.6v-2.3M358.20 111.6v-2.3" stroke="#8e8e8e" stroke-width="0.9"/>
<rect x="241.70" y="45.77" width="21.0" height="65.33" fill="#2a7fc1"/>
<text transform="translate(252.20,43.67) scale(0.88,1)" font-size="5.8" text-anchor="middle" fill="#707070">-123.2122221</text>
<text x="252.20" y="122.20" font-size="7" text-anchor="middle" fill="#5c5c5c" stroke="none">PLA-3</text>
<rect x="284.10" y="58.50" width="21.0" height="52.60" fill="#2a7fc1"/>
<text transform="translate(294.60,56.40) scale(0.88,1)" font-size="5.8" text-anchor="middle" fill="#707070">-117.7567633</text>
<text x="294.60" y="122.20" font-size="7" text-anchor="middle" fill="#5c5c5c" stroke="none">PLA-6</text>
<rect x="326.50" y="84.07" width="21.0" height="27.03" fill="#2a7fc1"/>
<text transform="translate(337.00,81.97) scale(0.88,1)" font-size="5.8" text-anchor="middle" fill="#707070">-106.8006962</text>
<text x="337.00" y="122.20" font-size="7" text-anchor="middle" fill="#5c5c5c" stroke="none">PLA-10</text>
<rect x="270.85" y="40.85" width="3.3" height="3.3" fill="#2a7fc1"/>
<text x="275.70" y="44.90" font-size="7" text-anchor="start" fill="#666666" stroke="none">Untreated</text>
<text transform="translate(199.60,79.90) rotate(-90)" font-size="7" text-anchor="middle" fill="#262626" stroke="#262626" stroke-width="0.15">Interface binding energy</text>
<text transform="translate(208.10,80.20) rotate(-90)" font-size="7" text-anchor="middle" fill="#262626" stroke="#262626" stroke-width="0.15">(kcal/mol)</text>
<path d="M403.5 37.7V103.4H539.7" fill="none" stroke="#2b2b2b" stroke-width="1"/>
<text x="396.90" y="105.60" font-size="7" text-anchor="end" fill="#262626"  stroke="#262626" stroke-width="0.15">-110</text>
<text x="396.90" y="92.46" font-size="7" text-anchor="end" fill="#262626"  stroke="#262626" stroke-width="0.15">-115</text>
<text x="396.90" y="79.32" font-size="7" text-anchor="end" fill="#262626"  stroke="#262626" stroke-width="0.15">-120</text>
<text x="396.90" y="66.18" font-size="7" text-anchor="end" fill="#262626"  stroke="#262626" stroke-width="0.15">-125</text>
<text x="396.90" y="53.04" font-size="7" text-anchor="end" fill="#262626"  stroke="#262626" stroke-width="0.15">-130</text>
<text x="396.90" y="39.90" font-size="7" text-anchor="end" fill="#262626"  stroke="#262626" stroke-width="0.15">-135</text>
<path d="M401.2 103.40h2.3M401.2 90.26h2.3M401.2 77.12h2.3M401.2 63.98h2.3M401.2 50.84h2.3M401.2 37.70h2.3" stroke="#2b2b2b" stroke-width="0.9"/>
<path d="M448.77 103.4v-2.3M494.23 103.4v-2.3M539.70 103.4v-2.3" stroke="#2b2b2b" stroke-width="0.9"/>
<rect x="414.73" y="48.61" width="22.6" height="54.29" fill="#2a7fc1"/>
<text transform="translate(426.03,45.71) scale(0.88,1)" font-size="5.8" text-anchor="middle" fill="#2a2a2a">-131.0072417</text>
<text x="426.03" y="113.90" font-size="7" text-anchor="middle" fill="#262626"  stroke="#262626" stroke-width="0.15">PLA-3</text>
<rect x="460.20" y="75.51" width="22.6" height="27.39" fill="#2a7fc1"/>
<text transform="translate(471.50,72.61) scale(0.88,1)" font-size="5.8" text-anchor="middle" fill="#2a2a2a">-120.6108867</text>
<text x="471.50" y="113.90" font-size="7" text-anchor="middle" fill="#262626"  stroke="#262626" stroke-width="0.15">PLA-6</text>
<rect x="505.67" y="99.82" width="22.6" height="3.08" fill="#2a7fc1"/>
<text transform="translate(516.97,96.92) scale(0.88,1)" font-size="5.8" text-anchor="middle" fill="#2a2a2a">-111.3639603</text>
<text x="516.97" y="113.90" font-size="7" text-anchor="middle" fill="#262626"  stroke="#262626" stroke-width="0.15">PLA-10</text>
<rect x="457.05" y="34.75" width="3.3" height="3.3" fill="#2a7fc1"/>
<text x="461.90" y="38.80" font-size="7" text-anchor="start" fill="#3a3a3a" stroke="none">V=20m/s</text>
<text transform="translate(370.30,78.10) rotate(-90)" font-size="7" text-anchor="middle" fill="#262626" stroke="#262626" stroke-width="0.15">Interface binding energy</text>
<text transform="translate(378.70,78.10) rotate(-90)" font-size="7" text-anchor="middle" fill="#262626" stroke="#262626" stroke-width="0.15">(kcal/mol)</text>
<path d="M231.3 230.8H357.8" fill="none" stroke="#8e8e8e" stroke-width="1"/>
<path d="M231.3 162.5V231.3" fill="none" stroke="#2b2b2b" stroke-width="1"/>
<text x="223.80" y="232.90" font-size="6.7" text-anchor="end" fill="#262626"  stroke="#262626" stroke-width="0.15">-110</text>
<text x="223.80" y="219.24" font-size="6.7" text-anchor="end" fill="#262626"  stroke="#262626" stroke-width="0.15">-115</text>
<text x="223.80" y="205.58" font-size="6.7" text-anchor="end" fill="#262626"  stroke="#262626" stroke-width="0.15">-120</text>
<text x="223.80" y="191.92" font-size="6.7" text-anchor="end" fill="#262626"  stroke="#262626" stroke-width="0.15">-125</text>
<text x="223.80" y="178.26" font-size="6.7" text-anchor="end" fill="#262626"  stroke="#262626" stroke-width="0.15">-130</text>
<text x="223.80" y="164.60" font-size="6.7" text-anchor="end" fill="#262626"  stroke="#262626" stroke-width="0.15">-135</text>
<path d="M229.0 230.80h2.3M229.0 217.14h2.3M229.0 203.48h2.3M229.0 189.82h2.3M229.0 176.16h2.3M229.0 162.50h2.3" stroke="#2b2b2b" stroke-width="0.9"/>
<path d="M273.27 230.8v-2.3M315.53 230.8v-2.3M357.80 230.8v-2.3" stroke="#8e8e8e" stroke-width="0.9"/>
<rect x="241.53" y="165.82" width="21.2" height="64.48" fill="#2a7fc1"/>
<text transform="translate(252.13,164.22) scale(0.88,1)" font-size="5.8" text-anchor="middle" fill="#707070">-133.7833492</text>
<text x="252.13" y="241.50" font-size="7" text-anchor="middle" fill="#5c5c5c" stroke="none">PLA-3</text>
<rect x="283.80" y="193.48" width="21.2" height="36.82" fill="#2a7fc1"/>
<text transform="translate(294.40,189.88) scale(0.88,1)" font-size="5.8" text-anchor="middle" fill="#707070">-123.6595407</text>
<text x="294.40" y="241.50" font-size="7" text-anchor="middle" fill="#5c5c5c" stroke="none">PLA-6</text>
<rect x="326.07" y="218.39" width="21.2" height="11.91" fill="#2a7fc1"/>
<text transform="translate(336.67,214.79) scale(0.88,1)" font-size="5.8" text-anchor="middle" fill="#707070">-114.5406521</text>
<text x="336.67" y="241.50" font-size="7" text-anchor="middle" fill="#5c5c5c" stroke="none">PLA-10</text>
<rect x="271.15000000000003" y="161.54999999999998" width="3.3" height="3.3" fill="#2a7fc1"/>
<text x="276.00" y="165.60" font-size="7" text-anchor="start" fill="#666666" stroke="none">V=40m/s</text>
<text transform="translate(197.50,199.50) rotate(-90)" font-size="7" text-anchor="middle" fill="#262626" stroke="#262626" stroke-width="0.15">Interface binding energy</text>
<text transform="translate(206.20,200.10) rotate(-90)" font-size="7" text-anchor="middle" fill="#262626" stroke="#262626" stroke-width="0.15">(kcal/mol)</text>
<path d="M401.0 162.4V227.9H538.4" fill="none" stroke="#2b2b2b" stroke-width="1"/>
<text x="394.60" y="230.10" font-size="7" text-anchor="end" fill="#262626"  stroke="#262626" stroke-width="0.15">-105</text>
<text x="394.60" y="220.74" font-size="7" text-anchor="end" fill="#262626"  stroke="#262626" stroke-width="0.15">-110</text>
<text x="394.60" y="211.39" font-size="7" text-anchor="end" fill="#262626"  stroke="#262626" stroke-width="0.15">-115</text>
<text x="394.60" y="202.03" font-size="7" text-anchor="end" fill="#262626"  stroke="#262626" stroke-width="0.15">-120</text>
<text x="394.60" y="192.67" font-size="7" text-anchor="end" fill="#262626"  stroke="#262626" stroke-width="0.15">-125</text>
<text x="394.60" y="183.31" font-size="7" text-anchor="end" fill="#262626"  stroke="#262626" stroke-width="0.15">-130</text>
<text x="394.60" y="173.96" font-size="7" text-anchor="end" fill="#262626"  stroke="#262626" stroke-width="0.15">-135</text>
<text x="394.60" y="164.60" font-size="7" text-anchor="end" fill="#262626"  stroke="#262626" stroke-width="0.15">-140</text>
<path d="M398.7 227.90h2.3M398.7 218.54h2.3M398.7 209.19h2.3M398.7 199.83h2.3M398.7 190.47h2.3M398.7 181.11h2.3M398.7 171.76h2.3M398.7 162.40h2.3" stroke="#2b2b2b" stroke-width="0.9"/>
<path d="M447.07 227.9v-2.3M492.73 227.9v-2.3M538.40 227.9v-2.3" stroke="#2b2b2b" stroke-width="0.9"/>
<rect x="412.93" y="169.77" width="22.6" height="57.63" fill="#2a7fc1"/>
<text transform="translate(424.23,166.27) scale(0.88,1)" font-size="5.8" text-anchor="middle" fill="#2a2a2a">-136.0628482</text>
<text x="424.23" y="238.60" font-size="7" text-anchor="middle" fill="#262626"  stroke="#262626" stroke-width="0.15">PLA-3</text>
<rect x="458.60" y="185.46" width="22.6" height="41.94" fill="#2a7fc1"/>
<text transform="translate(469.90,182.16) scale(0.88,1)" font-size="5.8" text-anchor="middle" fill="#2a2a2a">-127.6785111</text>
<text x="469.90" y="238.60" font-size="7" text-anchor="middle" fill="#262626"  stroke="#262626" stroke-width="0.15">PLA-6</text>
<rect x="504.27" y="203.56" width="22.6" height="23.84" fill="#2a7fc1"/>
<text transform="translate(515.57,200.26) scale(0.88,1)" font-size="5.8" text-anchor="middle" fill="#2a2a2a">-118.0075901</text>
<text x="515.57" y="238.60" font-size="7" text-anchor="middle" fill="#262626"  stroke="#262626" stroke-width="0.15">PLA-10</text>
<rect x="453.55" y="159.04999999999998" width="3.3" height="3.3" fill="#2a7fc1"/>
<text x="458.40" y="163.10" font-size="7" text-anchor="start" fill="#3a3a3a" stroke="none">V=60m/s</text>
<text transform="translate(369.50,196.90) rotate(-90)" font-size="7" text-anchor="middle" fill="#262626" stroke="#262626" stroke-width="0.15">Interface binding energy</text>
<text transform="translate(377.80,197.20) rotate(-90)" font-size="7" text-anchor="middle" fill="#262626" stroke="#262626" stroke-width="0.15">(kcal/mol)</text>
</svg>
</body></html>
